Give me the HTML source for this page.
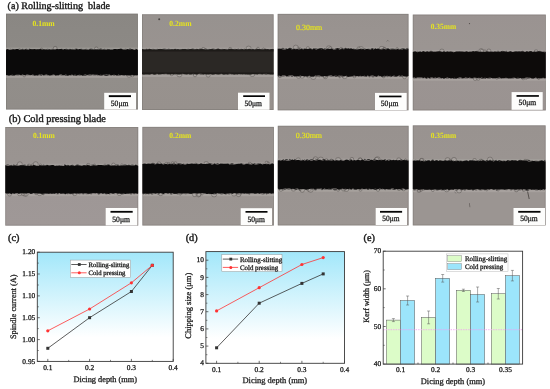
<!DOCTYPE html>
<html><head><meta charset="utf-8"><style>
html,body{margin:0;padding:0;background:#fff;width:550px;height:389px;overflow:hidden}
svg{display:block} text{text-rendering:geometricPrecision;stroke:#1a1a1a;stroke-width:0.28px;paint-order:stroke} 
</style></head><body>
<svg width="550" height="389" viewBox="0 0 550 389">
<defs></defs>
<linearGradient id="g0" x1="0" y1="0" x2="0" y2="1"><stop offset="0" stop-color="#8a8783"/><stop offset="0.35" stop-color="#8c8985"/><stop offset="0.65" stop-color="#928e8a"/><stop offset="1" stop-color="#918d89"/></linearGradient>
<rect x="6" y="13.7" width="131.9" height="95.8" fill="url(#g0)"/>
<rect x="6.4" y="14.1" width="131.1" height="95.0" fill="none" stroke="#6f6c68" stroke-width="0.8" opacity="0.45"/>
<rect x="6" y="47.6" width="131.9" height="1.8" fill="#aaa6a2" opacity="0.55"/>
<rect x="6" y="75.6" width="131.9" height="2.2" fill="#b0aca8" opacity="0.55"/>
<path d="M6.0,49.4 Q7.6,48.4 9.3,49.4 Z" fill="#0b0a0a" opacity="0.64"/>
<path d="M9.3,49.4 Q10.4,48.1 11.6,49.4 Z" fill="#0b0a0a" opacity="0.51"/>
<path d="M11.6,49.4 Q12.7,48.1 13.8,49.4 Z" fill="#0b0a0a" opacity="0.37"/>
<path d="M13.8,49.4 Q15.7,48.5 17.6,49.4 Z" fill="#0b0a0a" opacity="0.39"/>
<path d="M17.6,49.4 Q19.4,47.8 21.2,49.4 Z" fill="#0b0a0a" opacity="0.41"/>
<path d="M21.2,49.4 Q22.7,48.0 24.1,49.4 Z" fill="#0b0a0a" opacity="0.78"/>
<path d="M24.1,49.4 Q26.3,48.2 28.5,49.4 Z" fill="#0b0a0a" opacity="0.79"/>
<path d="M28.5,49.4 Q29.5,47.7 30.6,49.4 Z" fill="#0b0a0a" opacity="0.48"/>
<path d="M30.6,49.4 Q31.9,48.5 33.2,49.4 Z" fill="#0b0a0a" opacity="0.49"/>
<path d="M33.2,49.4 Q35.8,48.4 38.5,49.4 Z" fill="#0b0a0a" opacity="0.61"/>
<path d="M38.5,49.4 Q40.8,48.2 43.0,49.4 Z" fill="#0b0a0a" opacity="0.60"/>
<path d="M43.0,49.4 Q44.2,48.5 45.3,49.4 Z" fill="#0b0a0a" opacity="0.44"/>
<path d="M45.3,49.4 Q47.6,48.2 50.0,49.4 Z" fill="#0b0a0a" opacity="0.49"/>
<path d="M50.0,49.4 Q52.2,48.1 54.3,49.4 Z" fill="#0b0a0a" opacity="0.48"/>
<path d="M54.3,49.4 Q56.9,47.9 59.5,49.4 Z" fill="#0b0a0a" opacity="0.46"/>
<path d="M59.5,49.4 Q61.7,48.1 63.8,49.4 Z" fill="#0b0a0a" opacity="0.74"/>
<path d="M63.8,49.4 Q66.3,48.3 68.7,49.4 Z" fill="#0b0a0a" opacity="0.79"/>
<path d="M68.7,49.4 Q70.0,48.2 71.2,49.4 Z" fill="#0b0a0a" opacity="0.69"/>
<path d="M71.2,49.4 Q72.5,48.1 73.8,49.4 Z" fill="#0b0a0a" opacity="0.37"/>
<path d="M73.8,49.4 Q76.2,47.8 78.5,49.4 Z" fill="#0b0a0a" opacity="0.61"/>
<path d="M78.5,49.4 Q81.2,48.3 84.0,49.4 Z" fill="#0b0a0a" opacity="0.66"/>
<path d="M84.0,49.4 Q86.2,48.0 88.4,49.4 Z" fill="#0b0a0a" opacity="0.56"/>
<path d="M88.4,49.4 Q91.1,47.7 93.7,49.4 Z" fill="#0b0a0a" opacity="0.56"/>
<path d="M93.7,49.4 Q96.1,48.5 98.4,49.4 Z" fill="#0b0a0a" opacity="0.67"/>
<path d="M98.4,49.4 Q100.7,47.6 103.0,49.4 Z" fill="#0b0a0a" opacity="0.72"/>
<path d="M103.0,49.4 Q104.5,48.2 106.1,49.4 Z" fill="#0b0a0a" opacity="0.65"/>
<path d="M106.1,49.4 Q107.2,48.1 108.2,49.4 Z" fill="#0b0a0a" opacity="0.43"/>
<path d="M108.2,49.4 Q109.4,48.5 110.7,49.4 Z" fill="#0b0a0a" opacity="0.70"/>
<path d="M110.7,49.4 Q111.9,48.4 113.2,49.4 Z" fill="#0b0a0a" opacity="0.53"/>
<path d="M113.2,49.4 Q115.9,48.5 118.7,49.4 Z" fill="#0b0a0a" opacity="0.55"/>
<path d="M118.7,49.4 Q120.8,47.7 122.9,49.4 Z" fill="#0b0a0a" opacity="0.72"/>
<path d="M122.9,49.4 Q125.6,48.3 128.3,49.4 Z" fill="#0b0a0a" opacity="0.54"/>
<path d="M128.3,49.4 Q130.1,47.7 131.8,49.4 Z" fill="#0b0a0a" opacity="0.78"/>
<path d="M131.8,49.4 Q133.1,48.4 134.4,49.4 Z" fill="#0b0a0a" opacity="0.45"/>
<path d="M134.4,49.4 Q135.8,48.1 137.3,49.4 Z" fill="#0b0a0a" opacity="0.62"/>
<ellipse cx="41.6" cy="48.9" rx="1.0" ry="0.8" fill="#b4b0ac" fill-opacity="0.35" stroke="#2e2a28" stroke-width="0.4" stroke-opacity="0.75"/>
<ellipse cx="55.2" cy="48.3" rx="1.9" ry="1.9" fill="#b4b0ac" fill-opacity="0.35" stroke="#2e2a28" stroke-width="0.4" stroke-opacity="0.75"/>
<ellipse cx="96.3" cy="48.5" rx="1.8" ry="1.5" fill="#b4b0ac" fill-opacity="0.35" stroke="#2e2a28" stroke-width="0.4" stroke-opacity="0.75"/>
<path d="M6.0,75.0 Q8.4,75.9 10.7,75.0 Z" fill="#0b0a0a" opacity="0.75"/>
<path d="M10.7,75.0 Q13.3,76.7 15.8,75.0 Z" fill="#0b0a0a" opacity="0.71"/>
<path d="M15.8,75.0 Q17.6,76.2 19.4,75.0 Z" fill="#0b0a0a" opacity="0.40"/>
<path d="M19.4,75.0 Q21.7,75.9 23.9,75.0 Z" fill="#0b0a0a" opacity="0.38"/>
<path d="M23.9,75.0 Q25.3,76.0 26.8,75.0 Z" fill="#0b0a0a" opacity="0.50"/>
<path d="M26.8,75.0 Q27.9,75.8 29.0,75.0 Z" fill="#0b0a0a" opacity="0.42"/>
<path d="M29.0,75.0 Q30.2,76.2 31.4,75.0 Z" fill="#0b0a0a" opacity="0.36"/>
<path d="M31.4,75.0 Q34.1,76.4 36.9,75.0 Z" fill="#0b0a0a" opacity="0.42"/>
<path d="M36.9,75.0 Q38.4,76.1 39.9,75.0 Z" fill="#0b0a0a" opacity="0.51"/>
<path d="M39.9,75.0 Q41.1,76.6 42.4,75.0 Z" fill="#0b0a0a" opacity="0.80"/>
<path d="M42.4,75.0 Q44.3,76.3 46.2,75.0 Z" fill="#0b0a0a" opacity="0.39"/>
<path d="M46.2,75.0 Q47.4,76.1 48.7,75.0 Z" fill="#0b0a0a" opacity="0.47"/>
<path d="M48.7,75.0 Q51.3,76.0 54.0,75.0 Z" fill="#0b0a0a" opacity="0.36"/>
<path d="M54.0,75.0 Q56.9,76.3 59.8,75.0 Z" fill="#0b0a0a" opacity="0.42"/>
<path d="M59.8,75.0 Q61.9,75.8 63.9,75.0 Z" fill="#0b0a0a" opacity="0.59"/>
<path d="M63.9,75.0 Q66.9,76.7 69.9,75.0 Z" fill="#0b0a0a" opacity="0.66"/>
<path d="M69.9,75.0 Q71.4,76.2 72.9,75.0 Z" fill="#0b0a0a" opacity="0.43"/>
<path d="M72.9,75.0 Q75.4,76.3 78.0,75.0 Z" fill="#0b0a0a" opacity="0.70"/>
<path d="M78.0,75.0 Q79.7,76.0 81.3,75.0 Z" fill="#0b0a0a" opacity="0.72"/>
<path d="M81.3,75.0 Q84.3,76.7 87.2,75.0 Z" fill="#0b0a0a" opacity="0.71"/>
<path d="M87.2,75.0 Q89.9,76.5 92.5,75.0 Z" fill="#0b0a0a" opacity="0.45"/>
<path d="M92.5,75.0 Q94.6,76.2 96.6,75.0 Z" fill="#0b0a0a" opacity="0.36"/>
<path d="M96.6,75.0 Q97.6,76.1 98.7,75.0 Z" fill="#0b0a0a" opacity="0.47"/>
<path d="M98.7,75.0 Q101.1,76.8 103.5,75.0 Z" fill="#0b0a0a" opacity="0.55"/>
<path d="M103.5,75.0 Q106.3,76.8 109.2,75.0 Z" fill="#0b0a0a" opacity="0.78"/>
<path d="M109.2,75.0 Q111.0,76.0 112.7,75.0 Z" fill="#0b0a0a" opacity="0.45"/>
<path d="M112.7,75.0 Q114.1,76.0 115.5,75.0 Z" fill="#0b0a0a" opacity="0.63"/>
<path d="M115.5,75.0 Q118.3,76.6 121.1,75.0 Z" fill="#0b0a0a" opacity="0.57"/>
<path d="M121.1,75.0 Q123.4,76.6 125.7,75.0 Z" fill="#0b0a0a" opacity="0.39"/>
<path d="M125.7,75.0 Q128.0,76.7 130.3,75.0 Z" fill="#0b0a0a" opacity="0.70"/>
<path d="M130.3,75.0 Q132.8,76.3 135.3,75.0 Z" fill="#0b0a0a" opacity="0.43"/>
<path d="M135.3,75.0 Q136.6,76.1 137.9,75.0 Z" fill="#0b0a0a" opacity="0.71"/>
<ellipse cx="132.3" cy="75.7" rx="1.6" ry="1.2" fill="#b4b0ac" fill-opacity="0.35" stroke="#2e2a28" stroke-width="0.4" stroke-opacity="0.75"/>
<ellipse cx="129.1" cy="75.9" rx="2.2" ry="1.4" fill="#b4b0ac" fill-opacity="0.35" stroke="#2e2a28" stroke-width="0.4" stroke-opacity="0.75"/>
<ellipse cx="24.2" cy="75.7" rx="1.2" ry="1.2" fill="#b4b0ac" fill-opacity="0.35" stroke="#2e2a28" stroke-width="0.4" stroke-opacity="0.75"/>
<path d="M6.0,49.7 L7.5,49.0 L9.0,49.7 L10.5,49.9 L12.0,49.6 L13.5,49.3 L15.0,49.4 L16.5,49.0 L18.0,48.9 L19.5,49.9 L21.0,49.5 L22.5,49.4 L24.0,49.8 L25.5,49.3 L27.0,49.8 L28.5,49.7 L30.0,49.1 L31.5,49.2 L33.0,49.2 L34.5,49.1 L36.0,49.5 L37.5,49.2 L39.0,49.3 L40.5,49.0 L42.0,49.8 L43.5,49.3 L45.0,49.4 L46.5,49.5 L48.0,49.8 L49.5,49.3 L51.0,49.8 L52.5,49.4 L54.0,49.4 L55.5,49.4 L57.0,48.9 L58.5,49.3 L60.0,49.1 L61.5,48.9 L63.0,49.7 L64.5,49.1 L66.0,49.4 L67.5,49.6 L69.0,49.5 L70.5,49.2 L72.0,49.4 L73.5,49.5 L75.0,49.7 L76.5,49.0 L78.0,49.5 L79.5,49.1 L81.0,49.2 L82.5,49.7 L84.0,49.4 L85.5,49.5 L87.0,49.7 L88.5,49.8 L90.0,49.3 L91.5,49.5 L93.0,49.4 L94.5,49.4 L96.0,49.6 L97.5,49.4 L99.0,49.4 L100.5,49.4 L102.0,49.8 L103.5,49.6 L105.0,49.8 L106.5,49.8 L108.0,49.2 L109.5,49.5 L111.0,49.8 L112.5,49.7 L114.0,49.0 L115.5,49.0 L117.0,49.3 L118.5,49.0 L120.0,49.1 L121.5,49.0 L123.0,49.6 L124.5,49.7 L126.0,49.8 L127.5,49.1 L129.0,49.6 L130.5,49.6 L132.0,49.0 L133.5,49.8 L135.0,49.9 L136.5,49.1 L137.9,49.9 L137.9,74.9 L136.5,75.1 L135.0,75.2 L133.5,75.3 L132.0,74.8 L130.5,75.5 L129.0,75.2 L127.5,75.0 L126.0,74.9 L124.5,75.3 L123.0,75.0 L121.5,74.9 L120.0,75.3 L118.5,74.6 L117.0,75.4 L115.5,75.0 L114.0,74.7 L112.5,75.1 L111.0,75.2 L109.5,74.5 L108.0,74.8 L106.5,74.5 L105.0,74.8 L103.5,74.7 L102.0,75.0 L100.5,74.8 L99.0,75.3 L97.5,74.8 L96.0,74.8 L94.5,74.7 L93.0,74.6 L91.5,74.7 L90.0,74.6 L88.5,74.7 L87.0,75.0 L85.5,74.6 L84.0,74.8 L82.5,75.4 L81.0,75.1 L79.5,74.8 L78.0,75.0 L76.5,75.4 L75.0,74.6 L73.5,75.4 L72.0,74.6 L70.5,75.3 L69.0,75.1 L67.5,75.4 L66.0,74.6 L64.5,74.9 L63.0,75.2 L61.5,74.6 L60.0,74.6 L58.5,75.2 L57.0,75.1 L55.5,75.4 L54.0,74.6 L52.5,74.8 L51.0,75.3 L49.5,75.4 L48.0,74.9 L46.5,74.6 L45.0,74.8 L43.5,75.3 L42.0,74.5 L40.5,74.8 L39.0,74.6 L37.5,75.5 L36.0,75.3 L34.5,75.5 L33.0,74.6 L31.5,75.0 L30.0,75.1 L28.5,74.8 L27.0,74.5 L25.5,74.9 L24.0,75.1 L22.5,74.5 L21.0,75.2 L19.5,74.8 L18.0,74.7 L16.5,74.8 L15.0,75.0 L13.5,74.9 L12.0,74.7 L10.5,75.3 L9.0,75.5 L7.5,75.0 L6.0,74.9 Z" fill="#0b0a0a"/>
<text x="32.5" y="26.2" font-family="'Liberation Serif','Times New Roman',serif" class="y" font-weight="bold" font-size="7.9" fill="#e6e41e" style="stroke:none" textLength="22.2" lengthAdjust="spacingAndGlyphs">0.1mm</text>
<rect x="104.2" y="92.8" width="31.8" height="16.7" fill="#fdfdfc"/>
<rect x="108.8" y="95.2" width="22.2" height="1.9" fill="#050505"/>
<text x="110.8" y="106.0" font-family="'Liberation Serif','Times New Roman',serif" font-size="8" fill="#1a1a1a" textLength="17.6" lengthAdjust="spacingAndGlyphs">50μm</text>
<linearGradient id="g1" x1="0" y1="0" x2="0" y2="1"><stop offset="0" stop-color="#97928f"/><stop offset="0.35" stop-color="#999390"/><stop offset="0.65" stop-color="#98928e"/><stop offset="1" stop-color="#97918d"/></linearGradient>
<rect x="142" y="14.3" width="131.6" height="95.7" fill="url(#g1)"/>
<rect x="142.4" y="14.700000000000001" width="130.8" height="94.9" fill="none" stroke="#6f6c68" stroke-width="0.8" opacity="0.45"/>
<rect x="142" y="47.5" width="131.6" height="1.8" fill="#aaa6a2" opacity="0.55"/>
<rect x="142" y="74.7" width="131.6" height="2.2" fill="#b0aca8" opacity="0.55"/>
<path d="M142.0,49.3 Q143.7,48.5 145.4,49.3 Z" fill="#2b2825" opacity="0.41"/>
<path d="M145.4,49.3 Q146.5,47.9 147.7,49.3 Z" fill="#2b2825" opacity="0.47"/>
<path d="M147.7,49.3 Q149.0,48.4 150.3,49.3 Z" fill="#2b2825" opacity="0.73"/>
<path d="M150.3,49.3 Q153.1,48.0 155.8,49.3 Z" fill="#2b2825" opacity="0.48"/>
<path d="M155.8,49.3 Q157.3,48.3 158.8,49.3 Z" fill="#2b2825" opacity="0.56"/>
<path d="M158.8,49.3 Q160.1,48.1 161.4,49.3 Z" fill="#2b2825" opacity="0.47"/>
<path d="M161.4,49.3 Q164.3,47.7 167.3,49.3 Z" fill="#2b2825" opacity="0.60"/>
<path d="M167.3,49.3 Q168.7,47.7 170.2,49.3 Z" fill="#2b2825" opacity="0.49"/>
<path d="M170.2,49.3 Q171.9,48.5 173.7,49.3 Z" fill="#2b2825" opacity="0.52"/>
<path d="M173.7,49.3 Q175.6,48.1 177.6,49.3 Z" fill="#2b2825" opacity="0.44"/>
<path d="M177.6,49.3 Q179.6,48.5 181.6,49.3 Z" fill="#2b2825" opacity="0.47"/>
<path d="M181.6,49.3 Q182.8,48.2 183.9,49.3 Z" fill="#2b2825" opacity="0.37"/>
<path d="M183.9,49.3 Q185.0,48.3 186.0,49.3 Z" fill="#2b2825" opacity="0.45"/>
<path d="M186.0,49.3 Q188.2,48.1 190.4,49.3 Z" fill="#2b2825" opacity="0.69"/>
<path d="M190.4,49.3 Q192.7,47.9 195.0,49.3 Z" fill="#2b2825" opacity="0.75"/>
<path d="M195.0,49.3 Q196.8,48.2 198.6,49.3 Z" fill="#2b2825" opacity="0.79"/>
<path d="M198.6,49.3 Q199.9,47.9 201.2,49.3 Z" fill="#2b2825" opacity="0.64"/>
<path d="M201.2,49.3 Q202.2,47.8 203.3,49.3 Z" fill="#2b2825" opacity="0.75"/>
<path d="M203.3,49.3 Q205.6,47.9 207.8,49.3 Z" fill="#2b2825" opacity="0.72"/>
<path d="M207.8,49.3 Q209.1,48.1 210.4,49.3 Z" fill="#2b2825" opacity="0.58"/>
<path d="M210.4,49.3 Q213.1,47.9 215.7,49.3 Z" fill="#2b2825" opacity="0.72"/>
<path d="M215.7,49.3 Q217.9,47.8 220.1,49.3 Z" fill="#2b2825" opacity="0.66"/>
<path d="M220.1,49.3 Q222.5,48.3 224.8,49.3 Z" fill="#2b2825" opacity="0.36"/>
<path d="M224.8,49.3 Q226.1,48.2 227.4,49.3 Z" fill="#2b2825" opacity="0.40"/>
<path d="M227.4,49.3 Q230.0,48.1 232.7,49.3 Z" fill="#2b2825" opacity="0.63"/>
<path d="M232.7,49.3 Q235.0,48.0 237.2,49.3 Z" fill="#2b2825" opacity="0.57"/>
<path d="M237.2,49.3 Q238.2,47.9 239.2,49.3 Z" fill="#2b2825" opacity="0.69"/>
<path d="M239.2,49.3 Q241.2,48.1 243.3,49.3 Z" fill="#2b2825" opacity="0.65"/>
<path d="M243.3,49.3 Q244.4,47.9 245.5,49.3 Z" fill="#2b2825" opacity="0.46"/>
<path d="M245.5,49.3 Q246.7,48.3 247.8,49.3 Z" fill="#2b2825" opacity="0.68"/>
<path d="M247.8,49.3 Q249.2,47.9 250.6,49.3 Z" fill="#2b2825" opacity="0.79"/>
<path d="M250.6,49.3 Q252.6,48.2 254.6,49.3 Z" fill="#2b2825" opacity="0.57"/>
<path d="M254.6,49.3 Q257.0,47.9 259.3,49.3 Z" fill="#2b2825" opacity="0.63"/>
<path d="M259.3,49.3 Q261.6,48.4 263.9,49.3 Z" fill="#2b2825" opacity="0.42"/>
<path d="M263.9,49.3 Q265.4,47.9 266.9,49.3 Z" fill="#2b2825" opacity="0.49"/>
<path d="M266.9,49.3 Q269.1,48.5 271.2,49.3 Z" fill="#2b2825" opacity="0.38"/>
<path d="M271.2,49.3 Q272.4,48.0 273.6,49.3 Z" fill="#2b2825" opacity="0.66"/>
<ellipse cx="230.2" cy="48.6" rx="1.5" ry="1.2" fill="#b4b0ac" fill-opacity="0.35" stroke="#2e2a28" stroke-width="0.4" stroke-opacity="0.75"/>
<ellipse cx="203.3" cy="48.6" rx="1.7" ry="1.1" fill="#b4b0ac" fill-opacity="0.35" stroke="#2e2a28" stroke-width="0.4" stroke-opacity="0.75"/>
<ellipse cx="258.0" cy="48.5" rx="1.3" ry="1.3" fill="#b4b0ac" fill-opacity="0.35" stroke="#2e2a28" stroke-width="0.4" stroke-opacity="0.75"/>
<ellipse cx="263.5" cy="48.8" rx="1.0" ry="0.8" fill="#b4b0ac" fill-opacity="0.35" stroke="#2e2a28" stroke-width="0.4" stroke-opacity="0.75"/>
<ellipse cx="248.6" cy="48.1" rx="2.5" ry="2.0" fill="#b4b0ac" fill-opacity="0.35" stroke="#2e2a28" stroke-width="0.4" stroke-opacity="0.75"/>
<path d="M142.0,74.1 Q143.5,75.1 145.1,74.1 Z" fill="#2b2825" opacity="0.78"/>
<path d="M145.1,74.1 Q146.5,75.4 147.9,74.1 Z" fill="#2b2825" opacity="0.41"/>
<path d="M147.9,74.1 Q150.0,75.7 152.0,74.1 Z" fill="#2b2825" opacity="0.41"/>
<path d="M152.0,74.1 Q154.7,75.3 157.3,74.1 Z" fill="#2b2825" opacity="0.75"/>
<path d="M157.3,74.1 Q159.7,75.1 162.1,74.1 Z" fill="#2b2825" opacity="0.75"/>
<path d="M162.1,74.1 Q164.1,74.9 166.1,74.1 Z" fill="#2b2825" opacity="0.35"/>
<path d="M166.1,74.1 Q168.0,75.3 170.0,74.1 Z" fill="#2b2825" opacity="0.49"/>
<path d="M170.0,74.1 Q171.3,75.2 172.6,74.1 Z" fill="#2b2825" opacity="0.49"/>
<path d="M172.6,74.1 Q175.3,74.9 177.9,74.1 Z" fill="#2b2825" opacity="0.69"/>
<path d="M177.9,74.1 Q180.6,75.0 183.3,74.1 Z" fill="#2b2825" opacity="0.77"/>
<path d="M183.3,74.1 Q185.7,75.6 188.2,74.1 Z" fill="#2b2825" opacity="0.48"/>
<path d="M188.2,74.1 Q189.9,75.2 191.6,74.1 Z" fill="#2b2825" opacity="0.80"/>
<path d="M191.6,74.1 Q193.8,75.2 196.0,74.1 Z" fill="#2b2825" opacity="0.54"/>
<path d="M196.0,74.1 Q197.5,74.9 199.1,74.1 Z" fill="#2b2825" opacity="0.40"/>
<path d="M199.1,74.1 Q201.8,75.1 204.4,74.1 Z" fill="#2b2825" opacity="0.77"/>
<path d="M204.4,74.1 Q205.9,75.1 207.4,74.1 Z" fill="#2b2825" opacity="0.58"/>
<path d="M207.4,74.1 Q208.8,75.2 210.2,74.1 Z" fill="#2b2825" opacity="0.78"/>
<path d="M210.2,74.1 Q213.0,75.5 215.7,74.1 Z" fill="#2b2825" opacity="0.63"/>
<path d="M215.7,74.1 Q218.6,75.7 221.4,74.1 Z" fill="#2b2825" opacity="0.60"/>
<path d="M221.4,74.1 Q223.8,74.9 226.3,74.1 Z" fill="#2b2825" opacity="0.68"/>
<path d="M226.3,74.1 Q228.2,75.5 230.1,74.1 Z" fill="#2b2825" opacity="0.64"/>
<path d="M230.1,74.1 Q231.6,74.9 233.2,74.1 Z" fill="#2b2825" opacity="0.77"/>
<path d="M233.2,74.1 Q234.5,75.3 235.7,74.1 Z" fill="#2b2825" opacity="0.50"/>
<path d="M235.7,74.1 Q237.3,75.5 238.9,74.1 Z" fill="#2b2825" opacity="0.79"/>
<path d="M238.9,74.1 Q240.4,75.4 242.0,74.1 Z" fill="#2b2825" opacity="0.49"/>
<path d="M242.0,74.1 Q244.1,75.2 246.2,74.1 Z" fill="#2b2825" opacity="0.43"/>
<path d="M246.2,74.1 Q247.5,75.1 248.8,74.1 Z" fill="#2b2825" opacity="0.76"/>
<path d="M248.8,74.1 Q250.8,75.1 252.8,74.1 Z" fill="#2b2825" opacity="0.76"/>
<path d="M252.8,74.1 Q255.8,75.3 258.8,74.1 Z" fill="#2b2825" opacity="0.41"/>
<path d="M258.8,74.1 Q260.2,75.0 261.6,74.1 Z" fill="#2b2825" opacity="0.50"/>
<path d="M261.6,74.1 Q262.8,75.1 263.9,74.1 Z" fill="#2b2825" opacity="0.47"/>
<path d="M263.9,74.1 Q266.1,75.6 268.2,74.1 Z" fill="#2b2825" opacity="0.69"/>
<path d="M268.2,74.1 Q270.0,75.2 271.9,74.1 Z" fill="#2b2825" opacity="0.59"/>
<path d="M271.9,74.1 Q272.7,75.2 273.6,74.1 Z" fill="#2b2825" opacity="0.38"/>
<ellipse cx="179.4" cy="75.1" rx="2.5" ry="1.7" fill="#b4b0ac" fill-opacity="0.35" stroke="#2e2a28" stroke-width="0.4" stroke-opacity="0.75"/>
<ellipse cx="208.2" cy="75.2" rx="2.0" ry="1.9" fill="#b4b0ac" fill-opacity="0.35" stroke="#2e2a28" stroke-width="0.4" stroke-opacity="0.75"/>
<ellipse cx="171.6" cy="74.7" rx="1.4" ry="1.0" fill="#b4b0ac" fill-opacity="0.35" stroke="#2e2a28" stroke-width="0.4" stroke-opacity="0.75"/>
<ellipse cx="195.0" cy="75.1" rx="1.7" ry="1.7" fill="#b4b0ac" fill-opacity="0.35" stroke="#2e2a28" stroke-width="0.4" stroke-opacity="0.75"/>
<ellipse cx="252.3" cy="75.0" rx="2.4" ry="1.5" fill="#b4b0ac" fill-opacity="0.35" stroke="#2e2a28" stroke-width="0.4" stroke-opacity="0.75"/>
<path d="M142.0,48.8 L143.5,49.5 L145.0,49.7 L146.5,49.3 L148.0,49.4 L149.5,48.8 L151.0,49.2 L152.5,49.7 L154.0,49.6 L155.5,49.7 L157.0,49.8 L158.5,49.0 L160.0,48.9 L161.5,49.0 L163.0,49.3 L164.5,49.5 L166.0,49.7 L167.5,49.5 L169.0,49.4 L170.5,49.6 L172.0,49.3 L173.5,49.4 L175.0,48.8 L176.5,49.6 L178.0,49.0 L179.5,49.7 L181.0,49.4 L182.5,49.1 L184.0,48.9 L185.5,49.1 L187.0,49.4 L188.5,49.5 L190.0,48.9 L191.5,48.9 L193.0,49.3 L194.5,49.4 L196.0,49.2 L197.5,49.0 L199.0,49.4 L200.5,48.8 L202.0,49.1 L203.5,49.3 L205.0,49.8 L206.5,49.4 L208.0,49.7 L209.5,49.3 L211.0,49.0 L212.5,49.0 L214.0,49.8 L215.5,49.5 L217.0,49.1 L218.5,48.8 L220.0,49.3 L221.5,49.5 L223.0,49.2 L224.5,49.1 L226.0,49.5 L227.5,49.7 L229.0,49.0 L230.5,48.8 L232.0,49.1 L233.5,49.2 L235.0,49.5 L236.5,49.0 L238.0,49.6 L239.5,49.5 L241.0,49.3 L242.5,49.0 L244.0,49.8 L245.5,49.1 L247.0,49.6 L248.5,49.0 L250.0,49.0 L251.5,49.6 L253.0,49.1 L254.5,49.8 L256.0,49.3 L257.5,49.0 L259.0,49.0 L260.5,49.2 L262.0,49.5 L263.5,49.7 L265.0,48.9 L266.5,49.2 L268.0,49.0 L269.5,49.8 L271.0,48.9 L272.5,48.9 L273.6,48.9 L273.6,74.6 L272.5,74.5 L271.0,74.6 L269.5,73.9 L268.0,74.2 L266.5,73.6 L265.0,73.7 L263.5,73.8 L262.0,74.4 L260.5,73.8 L259.0,73.7 L257.5,74.4 L256.0,74.0 L254.5,73.9 L253.0,73.9 L251.5,74.2 L250.0,74.4 L248.5,74.4 L247.0,74.3 L245.5,74.4 L244.0,73.8 L242.5,74.5 L241.0,74.1 L239.5,74.0 L238.0,73.9 L236.5,74.0 L235.0,74.6 L233.5,74.6 L232.0,74.1 L230.5,73.8 L229.0,73.6 L227.5,74.5 L226.0,74.2 L224.5,74.5 L223.0,74.4 L221.5,73.6 L220.0,73.9 L218.5,73.9 L217.0,74.3 L215.5,73.9 L214.0,74.2 L212.5,74.6 L211.0,73.9 L209.5,73.9 L208.0,74.5 L206.5,74.3 L205.0,73.9 L203.5,74.5 L202.0,73.7 L200.5,73.6 L199.0,73.6 L197.5,74.4 L196.0,74.4 L194.5,74.0 L193.0,73.6 L191.5,74.5 L190.0,74.0 L188.5,73.8 L187.0,74.5 L185.5,74.0 L184.0,74.1 L182.5,73.6 L181.0,74.0 L179.5,74.4 L178.0,74.4 L176.5,74.0 L175.0,73.8 L173.5,74.6 L172.0,73.7 L170.5,74.6 L169.0,74.0 L167.5,73.9 L166.0,73.6 L164.5,73.8 L163.0,73.9 L161.5,74.0 L160.0,74.0 L158.5,74.3 L157.0,73.6 L155.5,74.3 L154.0,74.5 L152.5,73.8 L151.0,73.9 L149.5,74.5 L148.0,74.6 L146.5,74.3 L145.0,74.5 L143.5,74.5 L142.0,74.0 Z" fill="#2b2825"/>
<rect x="142" y="49.3" width="131.6" height="2.2" fill="#141211" opacity="0.6"/>
<rect x="142" y="72.5" width="131.6" height="1.6" fill="#141211" opacity="0.6"/>
<text x="169.3" y="25.5" font-family="'Liberation Serif','Times New Roman',serif" class="y" font-weight="bold" font-size="7.9" fill="#e6e41e" style="stroke:none" textLength="22.2" lengthAdjust="spacingAndGlyphs">0.2mm</text>
<rect x="238.0" y="92.7" width="31.5" height="17.1" fill="#fdfdfc"/>
<rect x="243.2" y="95.3" width="21.8" height="1.7" fill="#050505"/>
<text x="244.5" y="105.5" font-family="'Liberation Serif','Times New Roman',serif" font-size="8" fill="#1a1a1a" textLength="17.5" lengthAdjust="spacingAndGlyphs">50μm</text>
<linearGradient id="g2" x1="0" y1="0" x2="0" y2="1"><stop offset="0" stop-color="#98928f"/><stop offset="0.35" stop-color="#9a9491"/><stop offset="0.65" stop-color="#9a9491"/><stop offset="1" stop-color="#999390"/></linearGradient>
<rect x="277.7" y="13.9" width="130.8" height="96.4" fill="url(#g2)"/>
<rect x="278.09999999999997" y="14.3" width="130.0" height="95.6" fill="none" stroke="#6f6c68" stroke-width="0.8" opacity="0.45"/>
<rect x="277.7" y="47.3" width="130.8" height="1.8" fill="#aaa6a2" opacity="0.55"/>
<rect x="277.7" y="76.6" width="130.8" height="2.2" fill="#b0aca8" opacity="0.55"/>
<path d="M277.7,49.1 Q279.2,48.1 280.8,49.1 Z" fill="#0e0c0c" opacity="0.39"/>
<path d="M280.8,49.1 Q282.8,46.6 284.8,49.1 Z" fill="#0e0c0c" opacity="0.55"/>
<path d="M284.8,49.1 Q286.2,47.3 287.7,49.1 Z" fill="#0e0c0c" opacity="0.63"/>
<path d="M287.7,49.1 Q290.0,46.5 292.4,49.1 Z" fill="#0e0c0c" opacity="0.73"/>
<path d="M292.4,49.1 Q294.7,48.0 297.0,49.1 Z" fill="#0e0c0c" opacity="0.73"/>
<path d="M297.0,49.1 Q298.6,46.9 300.2,49.1 Z" fill="#0e0c0c" opacity="0.52"/>
<path d="M300.2,49.1 Q302.7,47.8 305.2,49.1 Z" fill="#0e0c0c" opacity="0.46"/>
<path d="M305.2,49.1 Q306.7,47.9 308.2,49.1 Z" fill="#0e0c0c" opacity="0.75"/>
<path d="M308.2,49.1 Q310.3,47.5 312.5,49.1 Z" fill="#0e0c0c" opacity="0.53"/>
<path d="M312.5,49.1 Q315.5,47.1 318.4,49.1 Z" fill="#0e0c0c" opacity="0.45"/>
<path d="M318.4,49.1 Q321.1,46.7 323.7,49.1 Z" fill="#0e0c0c" opacity="0.80"/>
<path d="M323.7,49.1 Q324.9,47.2 326.1,49.1 Z" fill="#0e0c0c" opacity="0.72"/>
<path d="M326.1,49.1 Q328.8,46.1 331.4,49.1 Z" fill="#0e0c0c" opacity="0.37"/>
<path d="M331.4,49.1 Q333.0,48.0 334.6,49.1 Z" fill="#0e0c0c" opacity="0.44"/>
<path d="M334.6,49.1 Q337.6,46.9 340.5,49.1 Z" fill="#0e0c0c" opacity="0.77"/>
<path d="M340.5,49.1 Q342.3,46.2 344.0,49.1 Z" fill="#0e0c0c" opacity="0.55"/>
<path d="M344.0,49.1 Q345.5,46.4 347.0,49.1 Z" fill="#0e0c0c" opacity="0.78"/>
<path d="M347.0,49.1 Q348.2,46.9 349.5,49.1 Z" fill="#0e0c0c" opacity="0.63"/>
<path d="M349.5,49.1 Q350.9,47.4 352.3,49.1 Z" fill="#0e0c0c" opacity="0.41"/>
<path d="M352.3,49.1 Q353.7,47.7 355.1,49.1 Z" fill="#0e0c0c" opacity="0.62"/>
<path d="M355.1,49.1 Q357.4,47.8 359.8,49.1 Z" fill="#0e0c0c" opacity="0.36"/>
<path d="M359.8,49.1 Q361.4,46.7 363.1,49.1 Z" fill="#0e0c0c" opacity="0.43"/>
<path d="M363.1,49.1 Q364.7,47.8 366.3,49.1 Z" fill="#0e0c0c" opacity="0.71"/>
<path d="M366.3,49.1 Q368.4,48.1 370.5,49.1 Z" fill="#0e0c0c" opacity="0.40"/>
<path d="M370.5,49.1 Q372.3,47.0 374.1,49.1 Z" fill="#0e0c0c" opacity="0.64"/>
<path d="M374.1,49.1 Q375.3,47.9 376.4,49.1 Z" fill="#0e0c0c" opacity="0.66"/>
<path d="M376.4,49.1 Q378.3,47.6 380.1,49.1 Z" fill="#0e0c0c" opacity="0.49"/>
<path d="M380.1,49.1 Q383.0,47.6 385.9,49.1 Z" fill="#0e0c0c" opacity="0.60"/>
<path d="M385.9,49.1 Q387.6,47.3 389.3,49.1 Z" fill="#0e0c0c" opacity="0.74"/>
<path d="M389.3,49.1 Q392.3,47.4 395.3,49.1 Z" fill="#0e0c0c" opacity="0.44"/>
<path d="M395.3,49.1 Q397.8,47.8 400.2,49.1 Z" fill="#0e0c0c" opacity="0.35"/>
<path d="M400.2,49.1 Q403.0,47.3 405.8,49.1 Z" fill="#0e0c0c" opacity="0.72"/>
<path d="M405.8,49.1 Q407.2,46.2 408.5,49.1 Z" fill="#0e0c0c" opacity="0.56"/>
<ellipse cx="300.3" cy="48.6" rx="1.0" ry="0.8" fill="#b4b0ac" fill-opacity="0.35" stroke="#2e2a28" stroke-width="0.4" stroke-opacity="0.75"/>
<ellipse cx="360.9" cy="48.2" rx="2.5" ry="1.6" fill="#b4b0ac" fill-opacity="0.35" stroke="#2e2a28" stroke-width="0.4" stroke-opacity="0.75"/>
<ellipse cx="358.6" cy="48.3" rx="1.6" ry="1.3" fill="#b4b0ac" fill-opacity="0.35" stroke="#2e2a28" stroke-width="0.4" stroke-opacity="0.75"/>
<ellipse cx="298.2" cy="48.4" rx="1.5" ry="1.2" fill="#b4b0ac" fill-opacity="0.35" stroke="#2e2a28" stroke-width="0.4" stroke-opacity="0.75"/>
<ellipse cx="397.1" cy="48.5" rx="1.2" ry="0.9" fill="#b4b0ac" fill-opacity="0.35" stroke="#2e2a28" stroke-width="0.4" stroke-opacity="0.75"/>
<ellipse cx="381.8" cy="48.1" rx="2.5" ry="1.7" fill="#b4b0ac" fill-opacity="0.35" stroke="#2e2a28" stroke-width="0.4" stroke-opacity="0.75"/>
<ellipse cx="295.8" cy="47.6" rx="2.5" ry="2.5" fill="#b4b0ac" fill-opacity="0.35" stroke="#2e2a28" stroke-width="0.4" stroke-opacity="0.75"/>
<ellipse cx="340.9" cy="48.5" rx="1.1" ry="1.1" fill="#b4b0ac" fill-opacity="0.35" stroke="#2e2a28" stroke-width="0.4" stroke-opacity="0.75"/>
<ellipse cx="328.9" cy="47.9" rx="2.4" ry="2.1" fill="#b4b0ac" fill-opacity="0.35" stroke="#2e2a28" stroke-width="0.4" stroke-opacity="0.75"/>
<ellipse cx="384.3" cy="48.4" rx="1.3" ry="1.1" fill="#b4b0ac" fill-opacity="0.35" stroke="#2e2a28" stroke-width="0.4" stroke-opacity="0.75"/>
<ellipse cx="307.9" cy="48.2" rx="1.6" ry="1.5" fill="#b4b0ac" fill-opacity="0.35" stroke="#2e2a28" stroke-width="0.4" stroke-opacity="0.75"/>
<ellipse cx="384.8" cy="48.6" rx="1.3" ry="0.9" fill="#b4b0ac" fill-opacity="0.35" stroke="#2e2a28" stroke-width="0.4" stroke-opacity="0.75"/>
<ellipse cx="330.4" cy="48.3" rx="1.8" ry="1.4" fill="#b4b0ac" fill-opacity="0.35" stroke="#2e2a28" stroke-width="0.4" stroke-opacity="0.75"/>
<path d="M277.7,76.0 Q278.9,77.4 280.2,76.0 Z" fill="#0e0c0c" opacity="0.68"/>
<path d="M280.2,76.0 Q283.0,76.9 285.8,76.0 Z" fill="#0e0c0c" opacity="0.60"/>
<path d="M285.8,76.0 Q288.3,76.9 290.8,76.0 Z" fill="#0e0c0c" opacity="0.73"/>
<path d="M290.8,76.0 Q292.0,78.2 293.3,76.0 Z" fill="#0e0c0c" opacity="0.60"/>
<path d="M293.3,76.0 Q295.5,77.5 297.8,76.0 Z" fill="#0e0c0c" opacity="0.54"/>
<path d="M297.8,76.0 Q300.0,77.8 302.1,76.0 Z" fill="#0e0c0c" opacity="0.65"/>
<path d="M302.1,76.0 Q304.0,77.9 305.9,76.0 Z" fill="#0e0c0c" opacity="0.36"/>
<path d="M305.9,76.0 Q308.1,78.0 310.4,76.0 Z" fill="#0e0c0c" opacity="0.46"/>
<path d="M310.4,76.0 Q312.9,78.7 315.4,76.0 Z" fill="#0e0c0c" opacity="0.56"/>
<path d="M315.4,76.0 Q316.8,77.9 318.2,76.0 Z" fill="#0e0c0c" opacity="0.40"/>
<path d="M318.2,76.0 Q319.4,77.8 320.7,76.0 Z" fill="#0e0c0c" opacity="0.39"/>
<path d="M320.7,76.0 Q322.6,78.0 324.4,76.0 Z" fill="#0e0c0c" opacity="0.37"/>
<path d="M324.4,76.0 Q326.7,77.0 329.0,76.0 Z" fill="#0e0c0c" opacity="0.68"/>
<path d="M329.0,76.0 Q331.5,78.0 334.1,76.0 Z" fill="#0e0c0c" opacity="0.37"/>
<path d="M334.1,76.0 Q336.1,77.7 338.1,76.0 Z" fill="#0e0c0c" opacity="0.78"/>
<path d="M338.1,76.0 Q339.4,78.9 340.7,76.0 Z" fill="#0e0c0c" opacity="0.80"/>
<path d="M340.7,76.0 Q343.1,78.8 345.6,76.0 Z" fill="#0e0c0c" opacity="0.44"/>
<path d="M345.6,76.0 Q348.5,78.0 351.5,76.0 Z" fill="#0e0c0c" opacity="0.78"/>
<path d="M351.5,76.0 Q354.3,77.2 357.2,76.0 Z" fill="#0e0c0c" opacity="0.70"/>
<path d="M357.2,76.0 Q360.0,77.0 362.9,76.0 Z" fill="#0e0c0c" opacity="0.51"/>
<path d="M362.9,76.0 Q365.4,77.2 367.9,76.0 Z" fill="#0e0c0c" opacity="0.75"/>
<path d="M367.9,76.0 Q369.5,78.8 371.0,76.0 Z" fill="#0e0c0c" opacity="0.41"/>
<path d="M371.0,76.0 Q373.0,79.0 375.0,76.0 Z" fill="#0e0c0c" opacity="0.44"/>
<path d="M375.0,76.0 Q376.6,78.0 378.1,76.0 Z" fill="#0e0c0c" opacity="0.49"/>
<path d="M378.1,76.0 Q379.2,77.2 380.2,76.0 Z" fill="#0e0c0c" opacity="0.42"/>
<path d="M380.2,76.0 Q383.1,78.4 386.0,76.0 Z" fill="#0e0c0c" opacity="0.75"/>
<path d="M386.0,76.0 Q387.3,78.7 388.6,76.0 Z" fill="#0e0c0c" opacity="0.40"/>
<path d="M388.6,76.0 Q390.7,78.3 392.8,76.0 Z" fill="#0e0c0c" opacity="0.51"/>
<path d="M392.8,76.0 Q395.5,78.1 398.3,76.0 Z" fill="#0e0c0c" opacity="0.61"/>
<path d="M398.3,76.0 Q401.0,77.1 403.8,76.0 Z" fill="#0e0c0c" opacity="0.80"/>
<path d="M403.8,76.0 Q406.1,77.7 408.3,76.0 Z" fill="#0e0c0c" opacity="0.71"/>
<ellipse cx="313.3" cy="77.3" rx="2.6" ry="2.1" fill="#b4b0ac" fill-opacity="0.35" stroke="#2e2a28" stroke-width="0.4" stroke-opacity="0.75"/>
<ellipse cx="325.4" cy="77.0" rx="2.2" ry="1.7" fill="#b4b0ac" fill-opacity="0.35" stroke="#2e2a28" stroke-width="0.4" stroke-opacity="0.75"/>
<ellipse cx="302.1" cy="76.8" rx="2.2" ry="1.4" fill="#b4b0ac" fill-opacity="0.35" stroke="#2e2a28" stroke-width="0.4" stroke-opacity="0.75"/>
<ellipse cx="383.7" cy="76.7" rx="1.4" ry="1.2" fill="#b4b0ac" fill-opacity="0.35" stroke="#2e2a28" stroke-width="0.4" stroke-opacity="0.75"/>
<ellipse cx="404.5" cy="77.0" rx="1.9" ry="1.7" fill="#b4b0ac" fill-opacity="0.35" stroke="#2e2a28" stroke-width="0.4" stroke-opacity="0.75"/>
<ellipse cx="319.3" cy="76.4" rx="1.0" ry="0.6" fill="#b4b0ac" fill-opacity="0.35" stroke="#2e2a28" stroke-width="0.4" stroke-opacity="0.75"/>
<ellipse cx="298.6" cy="76.9" rx="2.0" ry="1.5" fill="#b4b0ac" fill-opacity="0.35" stroke="#2e2a28" stroke-width="0.4" stroke-opacity="0.75"/>
<ellipse cx="344.7" cy="77.0" rx="2.4" ry="1.6" fill="#b4b0ac" fill-opacity="0.35" stroke="#2e2a28" stroke-width="0.4" stroke-opacity="0.75"/>
<ellipse cx="308.5" cy="76.7" rx="2.0" ry="1.2" fill="#b4b0ac" fill-opacity="0.35" stroke="#2e2a28" stroke-width="0.4" stroke-opacity="0.75"/>
<ellipse cx="280.0" cy="76.6" rx="1.6" ry="1.0" fill="#b4b0ac" fill-opacity="0.35" stroke="#2e2a28" stroke-width="0.4" stroke-opacity="0.75"/>
<ellipse cx="325.0" cy="76.7" rx="1.4" ry="1.1" fill="#b4b0ac" fill-opacity="0.35" stroke="#2e2a28" stroke-width="0.4" stroke-opacity="0.75"/>
<ellipse cx="354.4" cy="76.7" rx="1.3" ry="1.1" fill="#b4b0ac" fill-opacity="0.35" stroke="#2e2a28" stroke-width="0.4" stroke-opacity="0.75"/>
<ellipse cx="339.9" cy="76.7" rx="1.2" ry="1.2" fill="#b4b0ac" fill-opacity="0.35" stroke="#2e2a28" stroke-width="0.4" stroke-opacity="0.75"/>
<path d="M277.7,48.8 L279.2,48.7 L280.7,48.7 L282.2,49.2 L283.7,49.5 L285.2,49.4 L286.7,49.0 L288.2,48.9 L289.7,48.6 L291.2,49.2 L292.7,49.2 L294.2,49.0 L295.7,49.2 L297.2,49.0 L298.7,49.5 L300.2,49.3 L301.7,48.8 L303.2,49.5 L304.7,48.6 L306.2,49.1 L307.7,49.0 L309.2,48.8 L310.7,48.7 L312.2,49.4 L313.7,48.6 L315.2,49.2 L316.7,49.5 L318.2,48.7 L319.7,48.8 L321.2,49.2 L322.7,49.1 L324.2,49.2 L325.7,49.4 L327.2,48.8 L328.7,48.9 L330.2,48.9 L331.7,48.6 L333.2,49.5 L334.7,49.4 L336.2,49.3 L337.7,48.6 L339.2,49.4 L340.7,49.3 L342.2,49.1 L343.7,49.3 L345.2,49.1 L346.7,48.8 L348.2,48.7 L349.7,48.8 L351.2,48.6 L352.7,48.9 L354.2,49.3 L355.7,49.3 L357.2,49.4 L358.7,49.3 L360.2,48.9 L361.7,49.2 L363.2,49.0 L364.7,49.4 L366.2,49.1 L367.7,48.9 L369.2,49.2 L370.7,49.6 L372.2,48.8 L373.7,49.5 L375.2,48.6 L376.7,48.9 L378.2,48.8 L379.7,49.3 L381.2,49.5 L382.7,49.3 L384.2,48.9 L385.7,49.5 L387.2,48.9 L388.7,48.8 L390.2,49.5 L391.7,49.2 L393.2,49.3 L394.7,49.3 L396.2,49.6 L397.7,49.1 L399.2,49.4 L400.7,49.3 L402.2,49.5 L403.7,49.0 L405.2,49.3 L406.7,49.2 L408.2,48.9 L408.5,48.8 L408.5,75.9 L408.2,76.1 L406.7,76.3 L405.2,76.2 L403.7,76.3 L402.2,75.6 L400.7,76.1 L399.2,75.6 L397.7,76.0 L396.2,76.2 L394.7,75.7 L393.2,75.8 L391.7,76.4 L390.2,75.8 L388.7,76.3 L387.2,75.8 L385.7,76.0 L384.2,75.7 L382.7,76.3 L381.2,76.0 L379.7,76.0 L378.2,75.5 L376.7,76.5 L375.2,76.3 L373.7,75.7 L372.2,75.5 L370.7,75.7 L369.2,76.3 L367.7,75.6 L366.2,76.4 L364.7,75.7 L363.2,76.0 L361.7,76.2 L360.2,75.8 L358.7,76.3 L357.2,75.9 L355.7,75.9 L354.2,75.5 L352.7,76.1 L351.2,76.4 L349.7,76.0 L348.2,76.5 L346.7,75.8 L345.2,75.9 L343.7,76.2 L342.2,75.8 L340.7,75.8 L339.2,75.5 L337.7,75.9 L336.2,75.8 L334.7,75.7 L333.2,76.3 L331.7,75.6 L330.2,75.6 L328.7,75.8 L327.2,76.1 L325.7,76.3 L324.2,76.1 L322.7,76.3 L321.2,76.3 L319.7,75.5 L318.2,75.6 L316.7,75.7 L315.2,75.6 L313.7,76.4 L312.2,76.4 L310.7,76.4 L309.2,75.6 L307.7,76.4 L306.2,76.3 L304.7,76.3 L303.2,75.9 L301.7,76.1 L300.2,75.6 L298.7,76.2 L297.2,76.2 L295.7,76.1 L294.2,76.2 L292.7,75.5 L291.2,75.5 L289.7,75.6 L288.2,75.8 L286.7,76.4 L285.2,75.6 L283.7,75.5 L282.2,75.6 L280.7,76.4 L279.2,75.6 L277.7,76.1 Z" fill="#0e0c0c"/>
<text x="296.0" y="29.8" font-family="'Liberation Serif','Times New Roman',serif" class="y" font-size="7.9" fill="#e6e41e" style="stroke:#e6e41e;stroke-width:0.18px" textLength="26.3" lengthAdjust="spacingAndGlyphs">0.30mm</text>
<rect x="375.0" y="92.9" width="31.7" height="17.1" fill="#fdfdfc"/>
<rect x="379.2" y="95.6" width="22.3" height="1.7" fill="#050505"/>
<text x="380.8" y="105.6" font-family="'Liberation Serif','Times New Roman',serif" font-size="8" fill="#1a1a1a" textLength="17.6" lengthAdjust="spacingAndGlyphs">50μm</text>
<linearGradient id="g3" x1="0" y1="0" x2="0" y2="1"><stop offset="0" stop-color="#9a9391"/><stop offset="0.35" stop-color="#9b9592"/><stop offset="0.65" stop-color="#9b9492"/><stop offset="1" stop-color="#9a9391"/></linearGradient>
<rect x="412.8" y="14.6" width="133.0" height="95.8" fill="url(#g3)"/>
<rect x="413.2" y="15.0" width="132.2" height="95.0" fill="none" stroke="#6f6c68" stroke-width="0.8" opacity="0.45"/>
<rect x="412.8" y="49.9" width="133.0" height="1.8" fill="#aaa6a2" opacity="0.55"/>
<rect x="412.8" y="78.5" width="133.0" height="2.2" fill="#b0aca8" opacity="0.55"/>
<path d="M412.8,51.7 Q414.6,50.4 416.4,51.7 Z" fill="#0d0b0a" opacity="0.75"/>
<path d="M416.4,51.7 Q417.6,49.8 418.7,51.7 Z" fill="#0d0b0a" opacity="0.36"/>
<path d="M418.7,51.7 Q420.2,50.6 421.6,51.7 Z" fill="#0d0b0a" opacity="0.76"/>
<path d="M421.6,51.7 Q423.6,50.4 425.6,51.7 Z" fill="#0d0b0a" opacity="0.75"/>
<path d="M425.6,51.7 Q427.0,50.3 428.5,51.7 Z" fill="#0d0b0a" opacity="0.59"/>
<path d="M428.5,51.7 Q431.0,50.0 433.5,51.7 Z" fill="#0d0b0a" opacity="0.64"/>
<path d="M433.5,51.7 Q435.2,50.5 436.9,51.7 Z" fill="#0d0b0a" opacity="0.42"/>
<path d="M436.9,51.7 Q439.6,50.1 442.3,51.7 Z" fill="#0d0b0a" opacity="0.68"/>
<path d="M442.3,51.7 Q443.6,50.4 445.0,51.7 Z" fill="#0d0b0a" opacity="0.70"/>
<path d="M445.0,51.7 Q447.1,50.7 449.3,51.7 Z" fill="#0d0b0a" opacity="0.56"/>
<path d="M449.3,51.7 Q452.1,50.6 454.8,51.7 Z" fill="#0d0b0a" opacity="0.44"/>
<path d="M454.8,51.7 Q456.4,50.1 458.0,51.7 Z" fill="#0d0b0a" opacity="0.73"/>
<path d="M458.0,51.7 Q459.3,50.7 460.7,51.7 Z" fill="#0d0b0a" opacity="0.46"/>
<path d="M460.7,51.7 Q462.3,50.3 464.0,51.7 Z" fill="#0d0b0a" opacity="0.42"/>
<path d="M464.0,51.7 Q465.6,50.7 467.3,51.7 Z" fill="#0d0b0a" opacity="0.79"/>
<path d="M467.3,51.7 Q469.7,50.8 472.2,51.7 Z" fill="#0d0b0a" opacity="0.78"/>
<path d="M472.2,51.7 Q473.4,50.4 474.6,51.7 Z" fill="#0d0b0a" opacity="0.79"/>
<path d="M474.6,51.7 Q477.2,50.0 479.8,51.7 Z" fill="#0d0b0a" opacity="0.55"/>
<path d="M479.8,51.7 Q481.2,50.1 482.6,51.7 Z" fill="#0d0b0a" opacity="0.40"/>
<path d="M482.6,51.7 Q484.0,50.4 485.4,51.7 Z" fill="#0d0b0a" opacity="0.37"/>
<path d="M485.4,51.7 Q487.2,50.0 489.0,51.7 Z" fill="#0d0b0a" opacity="0.66"/>
<path d="M489.0,51.7 Q491.0,50.1 493.0,51.7 Z" fill="#0d0b0a" opacity="0.56"/>
<path d="M493.0,51.7 Q494.3,50.2 495.6,51.7 Z" fill="#0d0b0a" opacity="0.53"/>
<path d="M495.6,51.7 Q498.0,49.8 500.5,51.7 Z" fill="#0d0b0a" opacity="0.54"/>
<path d="M500.5,51.7 Q502.7,50.0 504.8,51.7 Z" fill="#0d0b0a" opacity="0.54"/>
<path d="M504.8,51.7 Q506.3,50.0 507.7,51.7 Z" fill="#0d0b0a" opacity="0.75"/>
<path d="M507.7,51.7 Q510.3,50.1 512.8,51.7 Z" fill="#0d0b0a" opacity="0.73"/>
<path d="M512.8,51.7 Q515.2,50.1 517.5,51.7 Z" fill="#0d0b0a" opacity="0.55"/>
<path d="M517.5,51.7 Q519.2,50.1 520.8,51.7 Z" fill="#0d0b0a" opacity="0.39"/>
<path d="M520.8,51.7 Q522.6,50.0 524.5,51.7 Z" fill="#0d0b0a" opacity="0.67"/>
<path d="M524.5,51.7 Q526.7,50.6 529.0,51.7 Z" fill="#0d0b0a" opacity="0.54"/>
<path d="M529.0,51.7 Q530.9,50.2 532.8,51.7 Z" fill="#0d0b0a" opacity="0.53"/>
<path d="M532.8,51.7 Q535.2,49.8 537.5,51.7 Z" fill="#0d0b0a" opacity="0.43"/>
<path d="M537.5,51.7 Q539.8,50.0 542.1,51.7 Z" fill="#0d0b0a" opacity="0.52"/>
<path d="M542.1,51.7 Q544.0,49.7 545.8,51.7 Z" fill="#0d0b0a" opacity="0.37"/>
<ellipse cx="484.9" cy="51.0" rx="1.3" ry="1.1" fill="#b4b0ac" fill-opacity="0.35" stroke="#2e2a28" stroke-width="0.4" stroke-opacity="0.75"/>
<ellipse cx="536.1" cy="51.0" rx="1.8" ry="1.2" fill="#b4b0ac" fill-opacity="0.35" stroke="#2e2a28" stroke-width="0.4" stroke-opacity="0.75"/>
<ellipse cx="488.9" cy="50.7" rx="1.9" ry="1.7" fill="#b4b0ac" fill-opacity="0.35" stroke="#2e2a28" stroke-width="0.4" stroke-opacity="0.75"/>
<ellipse cx="480.9" cy="50.6" rx="2.0" ry="1.9" fill="#b4b0ac" fill-opacity="0.35" stroke="#2e2a28" stroke-width="0.4" stroke-opacity="0.75"/>
<ellipse cx="482.1" cy="50.7" rx="1.7" ry="1.6" fill="#b4b0ac" fill-opacity="0.35" stroke="#2e2a28" stroke-width="0.4" stroke-opacity="0.75"/>
<ellipse cx="441.9" cy="50.7" rx="2.1" ry="1.6" fill="#b4b0ac" fill-opacity="0.35" stroke="#2e2a28" stroke-width="0.4" stroke-opacity="0.75"/>
<path d="M412.8,77.9 Q415.3,78.8 417.9,77.9 Z" fill="#0d0b0a" opacity="0.79"/>
<path d="M417.9,77.9 Q419.6,78.8 421.3,77.9 Z" fill="#0d0b0a" opacity="0.47"/>
<path d="M421.3,77.9 Q423.1,78.7 424.9,77.9 Z" fill="#0d0b0a" opacity="0.54"/>
<path d="M424.9,77.9 Q426.7,79.5 428.6,77.9 Z" fill="#0d0b0a" opacity="0.51"/>
<path d="M428.6,77.9 Q430.1,79.0 431.6,77.9 Z" fill="#0d0b0a" opacity="0.68"/>
<path d="M431.6,77.9 Q434.5,79.3 437.4,77.9 Z" fill="#0d0b0a" opacity="0.45"/>
<path d="M437.4,77.9 Q440.0,79.2 442.6,77.9 Z" fill="#0d0b0a" opacity="0.45"/>
<path d="M442.6,77.9 Q443.8,79.6 445.1,77.9 Z" fill="#0d0b0a" opacity="0.71"/>
<path d="M445.1,77.9 Q447.4,79.3 449.6,77.9 Z" fill="#0d0b0a" opacity="0.60"/>
<path d="M449.6,77.9 Q451.1,79.9 452.5,77.9 Z" fill="#0d0b0a" opacity="0.51"/>
<path d="M452.5,77.9 Q454.8,79.7 457.1,77.9 Z" fill="#0d0b0a" opacity="0.72"/>
<path d="M457.1,77.9 Q459.0,79.1 461.0,77.9 Z" fill="#0d0b0a" opacity="0.60"/>
<path d="M461.0,77.9 Q462.2,79.7 463.5,77.9 Z" fill="#0d0b0a" opacity="0.51"/>
<path d="M463.5,77.9 Q466.2,79.0 468.9,77.9 Z" fill="#0d0b0a" opacity="0.52"/>
<path d="M468.9,77.9 Q470.4,79.2 471.9,77.9 Z" fill="#0d0b0a" opacity="0.43"/>
<path d="M471.9,77.9 Q472.9,79.6 473.9,77.9 Z" fill="#0d0b0a" opacity="0.48"/>
<path d="M473.9,77.9 Q475.4,79.1 476.9,77.9 Z" fill="#0d0b0a" opacity="0.57"/>
<path d="M476.9,77.9 Q478.7,79.5 480.6,77.9 Z" fill="#0d0b0a" opacity="0.65"/>
<path d="M480.6,77.9 Q482.3,79.8 484.0,77.9 Z" fill="#0d0b0a" opacity="0.73"/>
<path d="M484.0,77.9 Q485.2,79.7 486.3,77.9 Z" fill="#0d0b0a" opacity="0.76"/>
<path d="M486.3,77.9 Q488.8,78.9 491.4,77.9 Z" fill="#0d0b0a" opacity="0.72"/>
<path d="M491.4,77.9 Q493.7,78.7 495.9,77.9 Z" fill="#0d0b0a" opacity="0.36"/>
<path d="M495.9,77.9 Q498.8,79.5 501.7,77.9 Z" fill="#0d0b0a" opacity="0.46"/>
<path d="M501.7,77.9 Q502.9,78.9 504.1,77.9 Z" fill="#0d0b0a" opacity="0.46"/>
<path d="M504.1,77.9 Q506.7,79.1 509.3,77.9 Z" fill="#0d0b0a" opacity="0.42"/>
<path d="M509.3,77.9 Q512.1,79.7 514.9,77.9 Z" fill="#0d0b0a" opacity="0.43"/>
<path d="M514.9,77.9 Q517.7,79.4 520.4,77.9 Z" fill="#0d0b0a" opacity="0.70"/>
<path d="M520.4,77.9 Q522.8,79.8 525.1,77.9 Z" fill="#0d0b0a" opacity="0.70"/>
<path d="M525.1,77.9 Q527.8,78.9 530.5,77.9 Z" fill="#0d0b0a" opacity="0.66"/>
<path d="M530.5,77.9 Q532.5,79.6 534.6,77.9 Z" fill="#0d0b0a" opacity="0.55"/>
<path d="M534.6,77.9 Q537.4,79.4 540.1,77.9 Z" fill="#0d0b0a" opacity="0.47"/>
<path d="M540.1,77.9 Q541.6,78.9 543.1,77.9 Z" fill="#0d0b0a" opacity="0.57"/>
<path d="M543.1,77.9 Q544.2,79.3 545.3,77.9 Z" fill="#0d0b0a" opacity="0.41"/>
<ellipse cx="478.2" cy="78.8" rx="1.8" ry="1.5" fill="#b4b0ac" fill-opacity="0.35" stroke="#2e2a28" stroke-width="0.4" stroke-opacity="0.75"/>
<ellipse cx="526.1" cy="78.5" rx="1.0" ry="0.9" fill="#b4b0ac" fill-opacity="0.35" stroke="#2e2a28" stroke-width="0.4" stroke-opacity="0.75"/>
<ellipse cx="475.2" cy="78.9" rx="1.9" ry="1.6" fill="#b4b0ac" fill-opacity="0.35" stroke="#2e2a28" stroke-width="0.4" stroke-opacity="0.75"/>
<ellipse cx="523.2" cy="78.6" rx="1.6" ry="1.2" fill="#b4b0ac" fill-opacity="0.35" stroke="#2e2a28" stroke-width="0.4" stroke-opacity="0.75"/>
<ellipse cx="538.7" cy="78.5" rx="1.1" ry="1.0" fill="#b4b0ac" fill-opacity="0.35" stroke="#2e2a28" stroke-width="0.4" stroke-opacity="0.75"/>
<ellipse cx="496.9" cy="78.4" rx="1.0" ry="0.9" fill="#b4b0ac" fill-opacity="0.35" stroke="#2e2a28" stroke-width="0.4" stroke-opacity="0.75"/>
<path d="M412.8,51.9 L414.3,52.1 L415.8,51.5 L417.3,52.2 L418.8,51.7 L420.3,51.7 L421.8,52.1 L423.3,51.2 L424.8,51.9 L426.3,51.8 L427.8,51.5 L429.3,52.1 L430.8,51.6 L432.3,51.7 L433.8,51.7 L435.3,52.0 L436.8,51.4 L438.3,51.6 L439.8,51.6 L441.3,51.8 L442.8,52.0 L444.3,51.5 L445.8,52.0 L447.3,51.6 L448.8,51.7 L450.3,51.5 L451.8,51.7 L453.3,52.2 L454.8,51.9 L456.3,52.0 L457.8,51.5 L459.3,51.5 L460.8,51.5 L462.3,51.8 L463.8,51.8 L465.3,52.0 L466.8,51.2 L468.3,51.9 L469.8,52.1 L471.3,51.7 L472.8,51.2 L474.3,51.5 L475.8,51.2 L477.3,51.4 L478.8,52.1 L480.3,51.8 L481.8,51.9 L483.3,52.0 L484.8,52.1 L486.3,51.8 L487.8,51.8 L489.3,51.8 L490.8,51.9 L492.3,51.8 L493.8,51.9 L495.3,51.4 L496.8,51.9 L498.3,51.7 L499.8,52.0 L501.3,51.3 L502.8,51.4 L504.3,51.2 L505.8,52.0 L507.3,52.1 L508.8,51.9 L510.3,51.6 L511.8,52.0 L513.3,52.0 L514.8,51.8 L516.3,51.5 L517.8,51.5 L519.3,51.6 L520.8,51.5 L522.3,51.6 L523.8,51.8 L525.3,52.1 L526.8,51.3 L528.3,51.8 L529.8,51.2 L531.3,51.3 L532.8,52.0 L534.3,51.8 L535.8,52.1 L537.3,51.6 L538.8,51.2 L540.3,51.6 L541.8,51.8 L543.3,52.1 L544.8,52.2 L545.8,51.7 L545.8,78.2 L544.8,78.3 L543.3,77.7 L541.8,78.0 L540.3,78.3 L538.8,78.2 L537.3,78.2 L535.8,77.4 L534.3,78.3 L532.8,78.2 L531.3,78.0 L529.8,77.8 L528.3,77.7 L526.8,77.4 L525.3,77.7 L523.8,78.2 L522.3,78.3 L520.8,78.0 L519.3,78.1 L517.8,77.8 L516.3,78.3 L514.8,77.8 L513.3,77.7 L511.8,78.0 L510.3,78.2 L508.8,78.4 L507.3,78.0 L505.8,77.7 L504.3,78.2 L502.8,78.1 L501.3,78.4 L499.8,77.5 L498.3,77.7 L496.8,78.0 L495.3,78.2 L493.8,78.3 L492.3,78.2 L490.8,77.8 L489.3,77.8 L487.8,78.0 L486.3,78.0 L484.8,77.8 L483.3,78.2 L481.8,77.5 L480.3,78.1 L478.8,77.8 L477.3,78.0 L475.8,77.8 L474.3,77.5 L472.8,77.9 L471.3,78.3 L469.8,77.6 L468.3,78.1 L466.8,77.7 L465.3,77.5 L463.8,78.2 L462.3,78.1 L460.8,77.4 L459.3,77.4 L457.8,78.1 L456.3,78.4 L454.8,77.7 L453.3,78.3 L451.8,77.9 L450.3,78.1 L448.8,78.0 L447.3,77.5 L445.8,78.1 L444.3,78.3 L442.8,78.1 L441.3,78.2 L439.8,77.5 L438.3,77.6 L436.8,78.1 L435.3,77.6 L433.8,78.1 L432.3,77.4 L430.8,77.5 L429.3,78.3 L427.8,77.5 L426.3,78.4 L424.8,77.5 L423.3,78.1 L421.8,77.4 L420.3,77.4 L418.8,77.6 L417.3,77.6 L415.8,78.0 L414.3,77.5 L412.8,77.8 Z" fill="#0d0b0a"/>
<text x="430.7" y="28.7" font-family="'Liberation Serif','Times New Roman',serif" class="y" font-weight="bold" font-size="7.9" fill="#e6e41e" style="stroke:none" textLength="25.4" lengthAdjust="spacingAndGlyphs">0.35mm</text>
<rect x="511.6" y="92.1" width="31.1" height="17.7" fill="#fdfdfc"/>
<rect x="516.5" y="95.1" width="22.4" height="1.7" fill="#050505"/>
<text x="518.6" y="104.8" font-family="'Liberation Serif','Times New Roman',serif" font-size="8" fill="#1a1a1a" textLength="17.6" lengthAdjust="spacingAndGlyphs">50μm</text>
<linearGradient id="g4" x1="0" y1="0" x2="0" y2="1"><stop offset="0" stop-color="#999390"/><stop offset="0.35" stop-color="#9a9491"/><stop offset="0.65" stop-color="#9e9796"/><stop offset="1" stop-color="#9f9897"/></linearGradient>
<rect x="5.3" y="127.0" width="132.9" height="98.6" fill="url(#g4)"/>
<rect x="5.7" y="127.4" width="132.1" height="97.8" fill="none" stroke="#6f6c68" stroke-width="0.8" opacity="0.45"/>
<rect x="5.3" y="163.7" width="132.9" height="1.8" fill="#aaa6a2" opacity="0.55"/>
<rect x="5.3" y="194.0" width="132.9" height="2.2" fill="#b0aca8" opacity="0.55"/>
<path d="M5.3,165.5 Q7.7,163.2 10.0,165.5 Z" fill="#0b0a0a" opacity="0.51"/>
<path d="M10.0,165.5 Q11.2,163.8 12.4,165.5 Z" fill="#0b0a0a" opacity="0.71"/>
<path d="M12.4,165.5 Q13.8,163.5 15.2,165.5 Z" fill="#0b0a0a" opacity="0.77"/>
<path d="M15.2,165.5 Q16.6,163.7 18.1,165.5 Z" fill="#0b0a0a" opacity="0.65"/>
<path d="M18.1,165.5 Q20.0,164.4 22.0,165.5 Z" fill="#0b0a0a" opacity="0.46"/>
<path d="M22.0,165.5 Q24.5,163.4 27.0,165.5 Z" fill="#0b0a0a" opacity="0.56"/>
<path d="M27.0,165.5 Q28.2,163.4 29.3,165.5 Z" fill="#0b0a0a" opacity="0.70"/>
<path d="M29.3,165.5 Q30.8,163.8 32.3,165.5 Z" fill="#0b0a0a" opacity="0.75"/>
<path d="M32.3,165.5 Q35.0,163.9 37.8,165.5 Z" fill="#0b0a0a" opacity="0.56"/>
<path d="M37.8,165.5 Q40.0,164.4 42.2,165.5 Z" fill="#0b0a0a" opacity="0.44"/>
<path d="M42.2,165.5 Q43.5,163.6 44.9,165.5 Z" fill="#0b0a0a" opacity="0.51"/>
<path d="M44.9,165.5 Q47.0,164.1 49.1,165.5 Z" fill="#0b0a0a" opacity="0.58"/>
<path d="M49.1,165.5 Q50.4,164.6 51.7,165.5 Z" fill="#0b0a0a" opacity="0.80"/>
<path d="M51.7,165.5 Q53.5,164.5 55.2,165.5 Z" fill="#0b0a0a" opacity="0.63"/>
<path d="M55.2,165.5 Q57.8,164.5 60.4,165.5 Z" fill="#0b0a0a" opacity="0.62"/>
<path d="M60.4,165.5 Q62.1,163.9 63.8,165.5 Z" fill="#0b0a0a" opacity="0.36"/>
<path d="M63.8,165.5 Q64.8,163.1 65.9,165.5 Z" fill="#0b0a0a" opacity="0.74"/>
<path d="M65.9,165.5 Q67.9,163.8 69.8,165.5 Z" fill="#0b0a0a" opacity="0.47"/>
<path d="M69.8,165.5 Q72.4,164.0 75.0,165.5 Z" fill="#0b0a0a" opacity="0.78"/>
<path d="M75.0,165.5 Q77.5,163.4 80.0,165.5 Z" fill="#0b0a0a" opacity="0.78"/>
<path d="M80.0,165.5 Q81.5,164.6 83.0,165.5 Z" fill="#0b0a0a" opacity="0.44"/>
<path d="M83.0,165.5 Q84.4,164.6 85.8,165.5 Z" fill="#0b0a0a" opacity="0.37"/>
<path d="M85.8,165.5 Q87.9,163.3 90.0,165.5 Z" fill="#0b0a0a" opacity="0.56"/>
<path d="M90.0,165.5 Q92.9,163.2 95.8,165.5 Z" fill="#0b0a0a" opacity="0.38"/>
<path d="M95.8,165.5 Q98.0,164.1 100.2,165.5 Z" fill="#0b0a0a" opacity="0.40"/>
<path d="M100.2,165.5 Q103.1,164.3 106.0,165.5 Z" fill="#0b0a0a" opacity="0.60"/>
<path d="M106.0,165.5 Q108.3,163.2 110.6,165.5 Z" fill="#0b0a0a" opacity="0.65"/>
<path d="M110.6,165.5 Q112.4,164.0 114.2,165.5 Z" fill="#0b0a0a" opacity="0.42"/>
<path d="M114.2,165.5 Q117.1,163.1 120.0,165.5 Z" fill="#0b0a0a" opacity="0.45"/>
<path d="M120.0,165.5 Q121.1,164.3 122.2,165.5 Z" fill="#0b0a0a" opacity="0.51"/>
<path d="M122.2,165.5 Q125.0,163.3 127.8,165.5 Z" fill="#0b0a0a" opacity="0.73"/>
<path d="M127.8,165.5 Q128.9,163.4 130.0,165.5 Z" fill="#0b0a0a" opacity="0.67"/>
<path d="M130.0,165.5 Q132.3,163.1 134.6,165.5 Z" fill="#0b0a0a" opacity="0.38"/>
<path d="M134.6,165.5 Q135.8,163.5 137.1,165.5 Z" fill="#0b0a0a" opacity="0.77"/>
<path d="M137.1,165.5 Q137.7,164.2 138.2,165.5 Z" fill="#0b0a0a" opacity="0.62"/>
<ellipse cx="105.0" cy="165.0" rx="1.2" ry="0.9" fill="#b4b0ac" fill-opacity="0.35" stroke="#2e2a28" stroke-width="0.4" stroke-opacity="0.75"/>
<ellipse cx="40.4" cy="164.9" rx="1.2" ry="0.9" fill="#b4b0ac" fill-opacity="0.35" stroke="#2e2a28" stroke-width="0.4" stroke-opacity="0.75"/>
<ellipse cx="29.0" cy="165.0" rx="1.4" ry="0.9" fill="#b4b0ac" fill-opacity="0.35" stroke="#2e2a28" stroke-width="0.4" stroke-opacity="0.75"/>
<ellipse cx="94.6" cy="165.0" rx="1.0" ry="0.9" fill="#b4b0ac" fill-opacity="0.35" stroke="#2e2a28" stroke-width="0.4" stroke-opacity="0.75"/>
<ellipse cx="32.4" cy="164.9" rx="1.1" ry="1.0" fill="#b4b0ac" fill-opacity="0.35" stroke="#2e2a28" stroke-width="0.4" stroke-opacity="0.75"/>
<ellipse cx="35.7" cy="164.1" rx="2.5" ry="2.4" fill="#b4b0ac" fill-opacity="0.35" stroke="#2e2a28" stroke-width="0.4" stroke-opacity="0.75"/>
<ellipse cx="121.9" cy="164.9" rx="1.2" ry="1.0" fill="#b4b0ac" fill-opacity="0.35" stroke="#2e2a28" stroke-width="0.4" stroke-opacity="0.75"/>
<ellipse cx="19.8" cy="164.1" rx="2.5" ry="2.3" fill="#b4b0ac" fill-opacity="0.35" stroke="#2e2a28" stroke-width="0.4" stroke-opacity="0.75"/>
<ellipse cx="88.3" cy="164.7" rx="1.7" ry="1.3" fill="#b4b0ac" fill-opacity="0.35" stroke="#2e2a28" stroke-width="0.4" stroke-opacity="0.75"/>
<ellipse cx="113.4" cy="164.6" rx="1.8" ry="1.5" fill="#b4b0ac" fill-opacity="0.35" stroke="#2e2a28" stroke-width="0.4" stroke-opacity="0.75"/>
<path d="M5.3,193.4 Q6.6,194.6 7.9,193.4 Z" fill="#0b0a0a" opacity="0.38"/>
<path d="M7.9,193.4 Q10.3,195.1 12.7,193.4 Z" fill="#0b0a0a" opacity="0.42"/>
<path d="M12.7,193.4 Q15.5,194.6 18.2,193.4 Z" fill="#0b0a0a" opacity="0.54"/>
<path d="M18.2,193.4 Q19.5,194.6 20.8,193.4 Z" fill="#0b0a0a" opacity="0.73"/>
<path d="M20.8,193.4 Q22.5,194.5 24.2,193.4 Z" fill="#0b0a0a" opacity="0.57"/>
<path d="M24.2,193.4 Q25.8,195.6 27.4,193.4 Z" fill="#0b0a0a" opacity="0.40"/>
<path d="M27.4,193.4 Q30.4,194.3 33.4,193.4 Z" fill="#0b0a0a" opacity="0.75"/>
<path d="M33.4,193.4 Q35.7,194.5 38.0,193.4 Z" fill="#0b0a0a" opacity="0.56"/>
<path d="M38.0,193.4 Q39.6,194.6 41.2,193.4 Z" fill="#0b0a0a" opacity="0.44"/>
<path d="M41.2,193.4 Q42.9,195.8 44.6,193.4 Z" fill="#0b0a0a" opacity="0.80"/>
<path d="M44.6,193.4 Q47.5,194.4 50.3,193.4 Z" fill="#0b0a0a" opacity="0.48"/>
<path d="M50.3,193.4 Q53.1,194.3 55.9,193.4 Z" fill="#0b0a0a" opacity="0.68"/>
<path d="M55.9,193.4 Q57.5,195.8 59.1,193.4 Z" fill="#0b0a0a" opacity="0.36"/>
<path d="M59.1,193.4 Q61.7,194.7 64.3,193.4 Z" fill="#0b0a0a" opacity="0.41"/>
<path d="M64.3,193.4 Q65.3,195.5 66.3,193.4 Z" fill="#0b0a0a" opacity="0.59"/>
<path d="M66.3,193.4 Q67.7,194.9 69.1,193.4 Z" fill="#0b0a0a" opacity="0.76"/>
<path d="M69.1,193.4 Q70.5,195.1 71.9,193.4 Z" fill="#0b0a0a" opacity="0.41"/>
<path d="M71.9,193.4 Q73.3,195.4 74.7,193.4 Z" fill="#0b0a0a" opacity="0.67"/>
<path d="M74.7,193.4 Q76.1,194.3 77.5,193.4 Z" fill="#0b0a0a" opacity="0.39"/>
<path d="M77.5,193.4 Q79.7,195.0 81.9,193.4 Z" fill="#0b0a0a" opacity="0.47"/>
<path d="M81.9,193.4 Q83.3,195.2 84.7,193.4 Z" fill="#0b0a0a" opacity="0.67"/>
<path d="M84.7,193.4 Q87.3,195.1 90.0,193.4 Z" fill="#0b0a0a" opacity="0.44"/>
<path d="M90.0,193.4 Q91.1,195.4 92.2,193.4 Z" fill="#0b0a0a" opacity="0.53"/>
<path d="M92.2,193.4 Q94.7,194.3 97.1,193.4 Z" fill="#0b0a0a" opacity="0.71"/>
<path d="M97.1,193.4 Q98.8,195.5 100.4,193.4 Z" fill="#0b0a0a" opacity="0.74"/>
<path d="M100.4,193.4 Q102.4,194.2 104.4,193.4 Z" fill="#0b0a0a" opacity="0.76"/>
<path d="M104.4,193.4 Q106.4,195.6 108.3,193.4 Z" fill="#0b0a0a" opacity="0.47"/>
<path d="M108.3,193.4 Q109.7,195.5 111.1,193.4 Z" fill="#0b0a0a" opacity="0.52"/>
<path d="M111.1,193.4 Q112.4,194.8 113.7,193.4 Z" fill="#0b0a0a" opacity="0.62"/>
<path d="M113.7,193.4 Q114.7,195.0 115.7,193.4 Z" fill="#0b0a0a" opacity="0.55"/>
<path d="M115.7,193.4 Q117.8,194.4 119.8,193.4 Z" fill="#0b0a0a" opacity="0.67"/>
<path d="M119.8,193.4 Q122.4,195.6 125.1,193.4 Z" fill="#0b0a0a" opacity="0.49"/>
<path d="M125.1,193.4 Q127.5,194.8 129.9,193.4 Z" fill="#0b0a0a" opacity="0.69"/>
<path d="M129.9,193.4 Q131.0,195.6 132.2,193.4 Z" fill="#0b0a0a" opacity="0.78"/>
<path d="M132.2,193.4 Q134.1,195.0 136.1,193.4 Z" fill="#0b0a0a" opacity="0.59"/>
<path d="M136.1,193.4 Q137.2,194.2 138.2,193.4 Z" fill="#0b0a0a" opacity="0.79"/>
<ellipse cx="36.1" cy="193.9" rx="1.3" ry="0.8" fill="#b4b0ac" fill-opacity="0.35" stroke="#2e2a28" stroke-width="0.4" stroke-opacity="0.75"/>
<ellipse cx="39.6" cy="194.2" rx="2.3" ry="1.4" fill="#b4b0ac" fill-opacity="0.35" stroke="#2e2a28" stroke-width="0.4" stroke-opacity="0.75"/>
<ellipse cx="19.7" cy="194.3" rx="2.1" ry="1.4" fill="#b4b0ac" fill-opacity="0.35" stroke="#2e2a28" stroke-width="0.4" stroke-opacity="0.75"/>
<ellipse cx="9.6" cy="194.4" rx="2.0" ry="1.6" fill="#b4b0ac" fill-opacity="0.35" stroke="#2e2a28" stroke-width="0.4" stroke-opacity="0.75"/>
<ellipse cx="74.7" cy="194.2" rx="2.1" ry="1.4" fill="#b4b0ac" fill-opacity="0.35" stroke="#2e2a28" stroke-width="0.4" stroke-opacity="0.75"/>
<ellipse cx="119.4" cy="194.2" rx="2.1" ry="1.3" fill="#b4b0ac" fill-opacity="0.35" stroke="#2e2a28" stroke-width="0.4" stroke-opacity="0.75"/>
<ellipse cx="23.2" cy="194.3" rx="1.8" ry="1.4" fill="#b4b0ac" fill-opacity="0.35" stroke="#2e2a28" stroke-width="0.4" stroke-opacity="0.75"/>
<ellipse cx="43.3" cy="193.9" rx="1.2" ry="0.9" fill="#b4b0ac" fill-opacity="0.35" stroke="#2e2a28" stroke-width="0.4" stroke-opacity="0.75"/>
<ellipse cx="25.0" cy="194.5" rx="1.9" ry="1.8" fill="#b4b0ac" fill-opacity="0.35" stroke="#2e2a28" stroke-width="0.4" stroke-opacity="0.75"/>
<ellipse cx="26.3" cy="194.4" rx="1.9" ry="1.7" fill="#b4b0ac" fill-opacity="0.35" stroke="#2e2a28" stroke-width="0.4" stroke-opacity="0.75"/>
<path d="M5.3,165.2 L6.8,165.8 L8.3,165.9 L9.8,165.4 L11.3,165.4 L12.8,165.8 L14.3,165.5 L15.8,165.4 L17.3,165.9 L18.8,165.8 L20.3,165.3 L21.8,165.2 L23.3,165.3 L24.8,165.4 L26.3,166.0 L27.8,165.8 L29.3,165.9 L30.8,165.8 L32.3,165.8 L33.8,165.1 L35.3,165.5 L36.8,166.0 L38.3,165.9 L39.8,165.2 L41.3,165.4 L42.8,165.6 L44.3,165.4 L45.8,165.5 L47.3,165.1 L48.8,165.4 L50.3,165.5 L51.8,165.0 L53.3,165.1 L54.8,166.0 L56.3,165.8 L57.8,165.9 L59.3,165.6 L60.8,165.8 L62.3,165.9 L63.8,165.9 L65.3,165.0 L66.8,165.6 L68.3,165.3 L69.8,165.7 L71.3,165.3 L72.8,165.5 L74.3,165.9 L75.8,165.6 L77.3,165.3 L78.8,165.5 L80.3,165.4 L81.8,166.0 L83.3,165.3 L84.8,165.3 L86.3,165.6 L87.8,165.1 L89.3,165.6 L90.8,166.0 L92.3,165.5 L93.8,165.3 L95.3,165.5 L96.8,165.5 L98.3,165.1 L99.8,165.1 L101.3,165.1 L102.8,165.3 L104.3,165.4 L105.8,165.3 L107.3,165.2 L108.8,165.1 L110.3,165.5 L111.8,165.8 L113.3,165.6 L114.8,165.6 L116.3,165.7 L117.8,165.2 L119.3,165.7 L120.8,165.5 L122.3,165.5 L123.8,165.6 L125.3,165.5 L126.8,165.3 L128.3,165.2 L129.8,165.2 L131.3,165.5 L132.8,165.4 L134.3,165.6 L135.8,165.0 L137.3,165.4 L138.2,165.9 L138.2,193.6 L137.3,193.8 L135.8,193.3 L134.3,193.5 L132.8,193.3 L131.3,193.3 L129.8,193.6 L128.3,193.4 L126.8,193.4 L125.3,193.9 L123.8,193.4 L122.3,193.7 L120.8,193.8 L119.3,193.4 L117.8,193.5 L116.3,192.9 L114.8,192.9 L113.3,193.8 L111.8,193.3 L110.3,193.1 L108.8,193.9 L107.3,193.7 L105.8,193.7 L104.3,193.2 L102.8,193.8 L101.3,193.0 L99.8,193.5 L98.3,193.5 L96.8,193.0 L95.3,193.2 L93.8,193.1 L92.3,193.3 L90.8,193.4 L89.3,193.7 L87.8,193.7 L86.3,193.2 L84.8,193.3 L83.3,193.5 L81.8,193.3 L80.3,193.2 L78.8,193.6 L77.3,193.4 L75.8,193.4 L74.3,193.3 L72.8,193.5 L71.3,193.8 L69.8,193.7 L68.3,193.3 L66.8,193.5 L65.3,193.9 L63.8,193.4 L62.3,193.5 L60.8,193.7 L59.3,192.9 L57.8,193.8 L56.3,193.0 L54.8,193.8 L53.3,193.6 L51.8,193.7 L50.3,193.4 L48.8,193.7 L47.3,193.6 L45.8,193.6 L44.3,193.4 L42.8,193.7 L41.3,193.7 L39.8,193.5 L38.3,193.6 L36.8,193.3 L35.3,193.2 L33.8,193.1 L32.3,193.6 L30.8,193.9 L29.3,193.1 L27.8,193.0 L26.3,193.6 L24.8,193.3 L23.3,193.3 L21.8,193.0 L20.3,193.3 L18.8,193.8 L17.3,193.0 L15.8,193.1 L14.3,193.7 L12.8,193.2 L11.3,193.9 L9.8,193.2 L8.3,193.4 L6.8,193.5 L5.3,193.1 Z" fill="#0b0a0a"/>
<text x="32.9" y="137.8" font-family="'Liberation Serif','Times New Roman',serif" class="y" font-weight="bold" font-size="7.9" fill="#e6e41e" style="stroke:none" textLength="22.0" lengthAdjust="spacingAndGlyphs">0.1mm</text>
<rect x="105.7" y="208.0" width="31.6" height="17.4" fill="#fdfdfc"/>
<rect x="110.5" y="210.9" width="22.2" height="1.8" fill="#050505"/>
<text x="112.3" y="221.6" font-family="'Liberation Serif','Times New Roman',serif" font-size="8" fill="#1a1a1a" textLength="17.7" lengthAdjust="spacingAndGlyphs">50μm</text>
<linearGradient id="g5" x1="0" y1="0" x2="0" y2="1"><stop offset="0" stop-color="#98928f"/><stop offset="0.35" stop-color="#999390"/><stop offset="0.65" stop-color="#9a9491"/><stop offset="1" stop-color="#9b9592"/></linearGradient>
<rect x="142.4" y="126.9" width="131.5" height="98.6" fill="url(#g5)"/>
<rect x="142.8" y="127.30000000000001" width="130.7" height="97.8" fill="none" stroke="#6f6c68" stroke-width="0.8" opacity="0.45"/>
<rect x="142.4" y="162.3" width="131.5" height="1.8" fill="#aaa6a2" opacity="0.55"/>
<rect x="142.4" y="194.0" width="131.5" height="2.2" fill="#b0aca8" opacity="0.55"/>
<path d="M142.4,164.1 Q144.5,163.1 146.5,164.1 Z" fill="#0c0b0b" opacity="0.52"/>
<path d="M146.5,164.1 Q148.3,162.3 150.1,164.1 Z" fill="#0c0b0b" opacity="0.61"/>
<path d="M150.1,164.1 Q152.9,161.6 155.6,164.1 Z" fill="#0c0b0b" opacity="0.57"/>
<path d="M155.6,164.1 Q157.5,162.2 159.4,164.1 Z" fill="#0c0b0b" opacity="0.80"/>
<path d="M159.4,164.1 Q161.1,162.3 162.8,164.1 Z" fill="#0c0b0b" opacity="0.72"/>
<path d="M162.8,164.1 Q164.1,162.7 165.4,164.1 Z" fill="#0c0b0b" opacity="0.79"/>
<path d="M165.4,164.1 Q168.1,162.4 170.7,164.1 Z" fill="#0c0b0b" opacity="0.40"/>
<path d="M170.7,164.1 Q173.5,162.1 176.3,164.1 Z" fill="#0c0b0b" opacity="0.72"/>
<path d="M176.3,164.1 Q179.3,161.7 182.3,164.1 Z" fill="#0c0b0b" opacity="0.54"/>
<path d="M182.3,164.1 Q183.6,162.8 184.9,164.1 Z" fill="#0c0b0b" opacity="0.58"/>
<path d="M184.9,164.1 Q186.9,163.0 188.9,164.1 Z" fill="#0c0b0b" opacity="0.43"/>
<path d="M188.9,164.1 Q191.2,162.2 193.4,164.1 Z" fill="#0c0b0b" opacity="0.51"/>
<path d="M193.4,164.1 Q196.4,162.2 199.4,164.1 Z" fill="#0c0b0b" opacity="0.37"/>
<path d="M199.4,164.1 Q201.2,161.9 203.1,164.1 Z" fill="#0c0b0b" opacity="0.49"/>
<path d="M203.1,164.1 Q205.5,163.3 207.8,164.1 Z" fill="#0c0b0b" opacity="0.49"/>
<path d="M207.8,164.1 Q210.5,162.2 213.2,164.1 Z" fill="#0c0b0b" opacity="0.65"/>
<path d="M213.2,164.1 Q214.6,162.4 216.0,164.1 Z" fill="#0c0b0b" opacity="0.60"/>
<path d="M216.0,164.1 Q217.5,162.1 219.1,164.1 Z" fill="#0c0b0b" opacity="0.59"/>
<path d="M219.1,164.1 Q222.0,162.3 225.0,164.1 Z" fill="#0c0b0b" opacity="0.53"/>
<path d="M225.0,164.1 Q226.3,163.0 227.5,164.1 Z" fill="#0c0b0b" opacity="0.69"/>
<path d="M227.5,164.1 Q228.7,163.1 230.0,164.1 Z" fill="#0c0b0b" opacity="0.43"/>
<path d="M230.0,164.1 Q232.0,161.8 234.0,164.1 Z" fill="#0c0b0b" opacity="0.63"/>
<path d="M234.0,164.1 Q236.7,163.2 239.3,164.1 Z" fill="#0c0b0b" opacity="0.36"/>
<path d="M239.3,164.1 Q241.8,162.7 244.4,164.1 Z" fill="#0c0b0b" opacity="0.67"/>
<path d="M244.4,164.1 Q246.1,163.0 247.8,164.1 Z" fill="#0c0b0b" opacity="0.47"/>
<path d="M247.8,164.1 Q249.0,161.7 250.2,164.1 Z" fill="#0c0b0b" opacity="0.61"/>
<path d="M250.2,164.1 Q251.9,162.5 253.6,164.1 Z" fill="#0c0b0b" opacity="0.52"/>
<path d="M253.6,164.1 Q254.7,161.7 255.8,164.1 Z" fill="#0c0b0b" opacity="0.61"/>
<path d="M255.8,164.1 Q258.7,162.5 261.6,164.1 Z" fill="#0c0b0b" opacity="0.63"/>
<path d="M261.6,164.1 Q263.1,163.2 264.6,164.1 Z" fill="#0c0b0b" opacity="0.77"/>
<path d="M264.6,164.1 Q267.3,162.7 270.0,164.1 Z" fill="#0c0b0b" opacity="0.75"/>
<path d="M270.0,164.1 Q272.0,162.8 273.9,164.1 Z" fill="#0c0b0b" opacity="0.62"/>
<ellipse cx="266.8" cy="163.0" rx="1.8" ry="1.8" fill="#b4b0ac" fill-opacity="0.35" stroke="#2e2a28" stroke-width="0.4" stroke-opacity="0.75"/>
<ellipse cx="175.4" cy="163.2" rx="1.6" ry="1.4" fill="#b4b0ac" fill-opacity="0.35" stroke="#2e2a28" stroke-width="0.4" stroke-opacity="0.75"/>
<ellipse cx="172.6" cy="163.2" rx="1.5" ry="1.4" fill="#b4b0ac" fill-opacity="0.35" stroke="#2e2a28" stroke-width="0.4" stroke-opacity="0.75"/>
<ellipse cx="206.2" cy="163.2" rx="2.3" ry="1.6" fill="#b4b0ac" fill-opacity="0.35" stroke="#2e2a28" stroke-width="0.4" stroke-opacity="0.75"/>
<ellipse cx="166.5" cy="163.5" rx="1.6" ry="1.1" fill="#b4b0ac" fill-opacity="0.35" stroke="#2e2a28" stroke-width="0.4" stroke-opacity="0.75"/>
<ellipse cx="268.3" cy="163.4" rx="1.5" ry="1.2" fill="#b4b0ac" fill-opacity="0.35" stroke="#2e2a28" stroke-width="0.4" stroke-opacity="0.75"/>
<ellipse cx="159.0" cy="163.3" rx="1.9" ry="1.4" fill="#b4b0ac" fill-opacity="0.35" stroke="#2e2a28" stroke-width="0.4" stroke-opacity="0.75"/>
<ellipse cx="195.8" cy="163.7" rx="1.1" ry="0.7" fill="#b4b0ac" fill-opacity="0.35" stroke="#2e2a28" stroke-width="0.4" stroke-opacity="0.75"/>
<ellipse cx="249.7" cy="163.4" rx="1.6" ry="1.1" fill="#b4b0ac" fill-opacity="0.35" stroke="#2e2a28" stroke-width="0.4" stroke-opacity="0.75"/>
<ellipse cx="168.8" cy="163.5" rx="1.5" ry="1.0" fill="#b4b0ac" fill-opacity="0.35" stroke="#2e2a28" stroke-width="0.4" stroke-opacity="0.75"/>
<path d="M142.4,193.4 Q143.5,195.4 144.5,193.4 Z" fill="#0c0b0b" opacity="0.50"/>
<path d="M144.5,193.4 Q145.9,195.5 147.2,193.4 Z" fill="#0c0b0b" opacity="0.39"/>
<path d="M147.2,193.4 Q148.7,195.7 150.2,193.4 Z" fill="#0c0b0b" opacity="0.41"/>
<path d="M150.2,193.4 Q152.1,195.7 154.0,193.4 Z" fill="#0c0b0b" opacity="0.71"/>
<path d="M154.0,193.4 Q155.3,194.8 156.7,193.4 Z" fill="#0c0b0b" opacity="0.68"/>
<path d="M156.7,193.4 Q158.4,195.9 160.2,193.4 Z" fill="#0c0b0b" opacity="0.44"/>
<path d="M160.2,193.4 Q163.1,195.1 166.0,193.4 Z" fill="#0c0b0b" opacity="0.45"/>
<path d="M166.0,193.4 Q167.9,194.4 169.8,193.4 Z" fill="#0c0b0b" opacity="0.67"/>
<path d="M169.8,193.4 Q171.3,195.8 172.8,193.4 Z" fill="#0c0b0b" opacity="0.61"/>
<path d="M172.8,193.4 Q174.6,194.6 176.3,193.4 Z" fill="#0c0b0b" opacity="0.62"/>
<path d="M176.3,193.4 Q177.7,195.8 179.1,193.4 Z" fill="#0c0b0b" opacity="0.41"/>
<path d="M179.1,193.4 Q181.2,195.2 183.2,193.4 Z" fill="#0c0b0b" opacity="0.47"/>
<path d="M183.2,193.4 Q185.7,194.9 188.3,193.4 Z" fill="#0c0b0b" opacity="0.65"/>
<path d="M188.3,193.4 Q190.4,194.8 192.5,193.4 Z" fill="#0c0b0b" opacity="0.53"/>
<path d="M192.5,193.4 Q193.7,194.5 194.9,193.4 Z" fill="#0c0b0b" opacity="0.73"/>
<path d="M194.9,193.4 Q196.5,195.4 198.2,193.4 Z" fill="#0c0b0b" opacity="0.40"/>
<path d="M198.2,193.4 Q200.3,194.9 202.4,193.4 Z" fill="#0c0b0b" opacity="0.58"/>
<path d="M202.4,193.4 Q204.0,194.3 205.6,193.4 Z" fill="#0c0b0b" opacity="0.49"/>
<path d="M205.6,193.4 Q207.1,194.4 208.5,193.4 Z" fill="#0c0b0b" opacity="0.67"/>
<path d="M208.5,193.4 Q210.1,194.9 211.6,193.4 Z" fill="#0c0b0b" opacity="0.76"/>
<path d="M211.6,193.4 Q214.2,195.8 216.7,193.4 Z" fill="#0c0b0b" opacity="0.74"/>
<path d="M216.7,193.4 Q218.0,194.7 219.3,193.4 Z" fill="#0c0b0b" opacity="0.36"/>
<path d="M219.3,193.4 Q221.6,195.4 224.0,193.4 Z" fill="#0c0b0b" opacity="0.51"/>
<path d="M224.0,193.4 Q225.8,195.4 227.6,193.4 Z" fill="#0c0b0b" opacity="0.66"/>
<path d="M227.6,193.4 Q229.1,195.7 230.6,193.4 Z" fill="#0c0b0b" opacity="0.51"/>
<path d="M230.6,193.4 Q232.9,194.5 235.2,193.4 Z" fill="#0c0b0b" opacity="0.40"/>
<path d="M235.2,193.4 Q238.0,195.5 240.8,193.4 Z" fill="#0c0b0b" opacity="0.67"/>
<path d="M240.8,193.4 Q241.9,194.3 243.0,193.4 Z" fill="#0c0b0b" opacity="0.42"/>
<path d="M243.0,193.4 Q244.4,194.7 245.8,193.4 Z" fill="#0c0b0b" opacity="0.52"/>
<path d="M245.8,193.4 Q246.8,194.8 247.9,193.4 Z" fill="#0c0b0b" opacity="0.64"/>
<path d="M247.9,193.4 Q249.3,195.7 250.6,193.4 Z" fill="#0c0b0b" opacity="0.61"/>
<path d="M250.6,193.4 Q253.1,194.7 255.5,193.4 Z" fill="#0c0b0b" opacity="0.55"/>
<path d="M255.5,193.4 Q257.9,194.8 260.2,193.4 Z" fill="#0c0b0b" opacity="0.35"/>
<path d="M260.2,193.4 Q262.9,195.6 265.6,193.4 Z" fill="#0c0b0b" opacity="0.48"/>
<path d="M265.6,193.4 Q266.7,195.7 267.7,193.4 Z" fill="#0c0b0b" opacity="0.62"/>
<path d="M267.7,193.4 Q268.8,194.6 269.9,193.4 Z" fill="#0c0b0b" opacity="0.40"/>
<path d="M269.9,193.4 Q271.9,194.6 273.9,193.4 Z" fill="#0c0b0b" opacity="0.76"/>
<ellipse cx="240.0" cy="194.0" rx="1.1" ry="1.0" fill="#b4b0ac" fill-opacity="0.35" stroke="#2e2a28" stroke-width="0.4" stroke-opacity="0.75"/>
<ellipse cx="194.6" cy="194.6" rx="2.2" ry="2.0" fill="#b4b0ac" fill-opacity="0.35" stroke="#2e2a28" stroke-width="0.4" stroke-opacity="0.75"/>
<ellipse cx="180.2" cy="194.1" rx="1.1" ry="1.1" fill="#b4b0ac" fill-opacity="0.35" stroke="#2e2a28" stroke-width="0.4" stroke-opacity="0.75"/>
<ellipse cx="198.5" cy="194.7" rx="2.5" ry="2.2" fill="#b4b0ac" fill-opacity="0.35" stroke="#2e2a28" stroke-width="0.4" stroke-opacity="0.75"/>
<ellipse cx="238.6" cy="194.6" rx="2.3" ry="2.0" fill="#b4b0ac" fill-opacity="0.35" stroke="#2e2a28" stroke-width="0.4" stroke-opacity="0.75"/>
<ellipse cx="202.1" cy="194.0" rx="1.1" ry="1.0" fill="#b4b0ac" fill-opacity="0.35" stroke="#2e2a28" stroke-width="0.4" stroke-opacity="0.75"/>
<ellipse cx="199.0" cy="194.5" rx="1.8" ry="1.8" fill="#b4b0ac" fill-opacity="0.35" stroke="#2e2a28" stroke-width="0.4" stroke-opacity="0.75"/>
<ellipse cx="160.7" cy="194.2" rx="2.2" ry="1.4" fill="#b4b0ac" fill-opacity="0.35" stroke="#2e2a28" stroke-width="0.4" stroke-opacity="0.75"/>
<ellipse cx="234.0" cy="194.4" rx="2.3" ry="1.6" fill="#b4b0ac" fill-opacity="0.35" stroke="#2e2a28" stroke-width="0.4" stroke-opacity="0.75"/>
<ellipse cx="214.1" cy="194.7" rx="2.6" ry="2.2" fill="#b4b0ac" fill-opacity="0.35" stroke="#2e2a28" stroke-width="0.4" stroke-opacity="0.75"/>
<path d="M142.4,164.1 L143.9,163.8 L145.4,163.7 L146.9,164.0 L148.4,164.0 L149.9,163.8 L151.4,163.9 L152.9,163.7 L154.4,164.3 L155.9,164.3 L157.4,163.8 L158.9,163.8 L160.4,164.1 L161.9,164.0 L163.4,164.5 L164.9,164.0 L166.4,163.9 L167.9,164.5 L169.4,163.7 L170.9,164.2 L172.4,163.9 L173.9,164.4 L175.4,164.1 L176.9,164.4 L178.4,163.8 L179.9,164.3 L181.4,164.2 L182.9,164.1 L184.4,164.4 L185.9,164.4 L187.4,163.7 L188.9,163.9 L190.4,164.0 L191.9,163.8 L193.4,163.7 L194.9,163.9 L196.4,163.8 L197.9,164.3 L199.4,164.0 L200.9,163.7 L202.4,163.9 L203.9,164.1 L205.4,164.0 L206.9,163.8 L208.4,163.7 L209.9,163.6 L211.4,164.6 L212.9,164.4 L214.4,163.7 L215.9,164.3 L217.4,164.6 L218.9,164.2 L220.4,163.7 L221.9,164.1 L223.4,164.0 L224.9,163.8 L226.4,164.1 L227.9,163.6 L229.4,164.5 L230.9,164.2 L232.4,164.2 L233.9,164.5 L235.4,164.3 L236.9,163.9 L238.4,163.8 L239.9,163.7 L241.4,163.6 L242.9,164.4 L244.4,164.4 L245.9,163.9 L247.4,163.8 L248.9,164.2 L250.4,164.4 L251.9,164.5 L253.4,163.8 L254.9,164.4 L256.4,164.4 L257.9,164.3 L259.4,163.9 L260.9,163.8 L262.4,164.4 L263.9,163.9 L265.4,164.0 L266.9,164.2 L268.4,164.0 L269.9,164.4 L271.4,163.8 L272.9,163.6 L273.9,164.2 L273.9,193.4 L272.9,193.0 L271.4,193.5 L269.9,193.1 L268.4,193.5 L266.9,193.4 L265.4,193.2 L263.9,193.4 L262.4,193.0 L260.9,193.2 L259.4,193.8 L257.9,193.0 L256.4,193.4 L254.9,193.8 L253.4,193.1 L251.9,193.0 L250.4,193.3 L248.9,193.5 L247.4,193.4 L245.9,193.3 L244.4,193.5 L242.9,193.3 L241.4,193.6 L239.9,193.0 L238.4,193.3 L236.9,193.6 L235.4,193.1 L233.9,192.9 L232.4,193.8 L230.9,193.2 L229.4,193.2 L227.9,193.5 L226.4,193.4 L224.9,193.9 L223.4,193.5 L221.9,193.2 L220.4,193.5 L218.9,193.6 L217.4,193.0 L215.9,193.7 L214.4,193.5 L212.9,193.9 L211.4,193.9 L209.9,193.8 L208.4,193.8 L206.9,193.9 L205.4,193.4 L203.9,193.2 L202.4,193.0 L200.9,193.1 L199.4,193.2 L197.9,193.5 L196.4,193.3 L194.9,193.2 L193.4,193.1 L191.9,193.8 L190.4,193.7 L188.9,193.6 L187.4,193.3 L185.9,193.2 L184.4,193.3 L182.9,193.4 L181.4,193.6 L179.9,193.2 L178.4,193.3 L176.9,193.7 L175.4,193.8 L173.9,193.7 L172.4,192.9 L170.9,193.6 L169.4,193.1 L167.9,193.3 L166.4,192.9 L164.9,193.0 L163.4,193.9 L161.9,193.3 L160.4,193.1 L158.9,193.6 L157.4,193.0 L155.9,193.5 L154.4,193.2 L152.9,193.1 L151.4,193.4 L149.9,193.4 L148.4,193.8 L146.9,193.8 L145.4,193.6 L143.9,193.7 L142.4,193.5 Z" fill="#0c0b0b"/>
<text x="169.3" y="137.8" font-family="'Liberation Serif','Times New Roman',serif" class="y" font-weight="bold" font-size="7.9" fill="#e6e41e" style="stroke:none" textLength="22.1" lengthAdjust="spacingAndGlyphs">0.2mm</text>
<rect x="240.7" y="208.2" width="31.3" height="16.8" fill="#fdfdfc"/>
<rect x="245.5" y="211.0" width="22.0" height="1.7" fill="#050505"/>
<text x="247.5" y="221.5" font-family="'Liberation Serif','Times New Roman',serif" font-size="8" fill="#1a1a1a" textLength="17.5" lengthAdjust="spacingAndGlyphs">50μm</text>
<linearGradient id="g6" x1="0" y1="0" x2="0" y2="1"><stop offset="0" stop-color="#98928f"/><stop offset="0.35" stop-color="#999390"/><stop offset="0.65" stop-color="#9a9491"/><stop offset="1" stop-color="#9b9592"/></linearGradient>
<rect x="277.8" y="125.8" width="130.8" height="99.6" fill="url(#g6)"/>
<rect x="278.2" y="126.2" width="130.0" height="98.8" fill="none" stroke="#6f6c68" stroke-width="0.8" opacity="0.45"/>
<rect x="277.8" y="158.5" width="130.8" height="1.8" fill="#aaa6a2" opacity="0.55"/>
<rect x="277.8" y="189.5" width="130.8" height="2.2" fill="#b0aca8" opacity="0.55"/>
<path d="M277.8,160.3 Q280.0,159.3 282.2,160.3 Z" fill="#0c0b0b" opacity="0.53"/>
<path d="M282.2,160.3 Q283.3,158.4 284.4,160.3 Z" fill="#0c0b0b" opacity="0.74"/>
<path d="M284.4,160.3 Q286.5,157.8 288.6,160.3 Z" fill="#0c0b0b" opacity="0.69"/>
<path d="M288.6,160.3 Q289.9,157.1 291.1,160.3 Z" fill="#0c0b0b" opacity="0.67"/>
<path d="M291.1,160.3 Q292.3,157.5 293.5,160.3 Z" fill="#0c0b0b" opacity="0.53"/>
<path d="M293.5,160.3 Q294.9,157.2 296.2,160.3 Z" fill="#0c0b0b" opacity="0.60"/>
<path d="M296.2,160.3 Q298.8,159.2 301.3,160.3 Z" fill="#0c0b0b" opacity="0.70"/>
<path d="M301.3,160.3 Q302.4,158.9 303.5,160.3 Z" fill="#0c0b0b" opacity="0.52"/>
<path d="M303.5,160.3 Q304.6,158.1 305.6,160.3 Z" fill="#0c0b0b" opacity="0.45"/>
<path d="M305.6,160.3 Q307.2,157.8 308.8,160.3 Z" fill="#0c0b0b" opacity="0.54"/>
<path d="M308.8,160.3 Q311.6,158.0 314.3,160.3 Z" fill="#0c0b0b" opacity="0.74"/>
<path d="M314.3,160.3 Q316.5,157.3 318.6,160.3 Z" fill="#0c0b0b" opacity="0.74"/>
<path d="M318.6,160.3 Q319.9,157.7 321.3,160.3 Z" fill="#0c0b0b" opacity="0.50"/>
<path d="M321.3,160.3 Q323.8,157.9 326.3,160.3 Z" fill="#0c0b0b" opacity="0.72"/>
<path d="M326.3,160.3 Q327.6,158.6 328.8,160.3 Z" fill="#0c0b0b" opacity="0.68"/>
<path d="M328.8,160.3 Q331.7,157.8 334.6,160.3 Z" fill="#0c0b0b" opacity="0.37"/>
<path d="M334.6,160.3 Q336.8,159.3 339.0,160.3 Z" fill="#0c0b0b" opacity="0.60"/>
<path d="M339.0,160.3 Q341.6,159.2 344.2,160.3 Z" fill="#0c0b0b" opacity="0.77"/>
<path d="M344.2,160.3 Q346.6,158.9 348.9,160.3 Z" fill="#0c0b0b" opacity="0.44"/>
<path d="M348.9,160.3 Q350.8,157.5 352.7,160.3 Z" fill="#0c0b0b" opacity="0.61"/>
<path d="M352.7,160.3 Q354.0,159.4 355.2,160.3 Z" fill="#0c0b0b" opacity="0.40"/>
<path d="M355.2,160.3 Q357.8,159.1 360.4,160.3 Z" fill="#0c0b0b" opacity="0.60"/>
<path d="M360.4,160.3 Q362.0,157.9 363.5,160.3 Z" fill="#0c0b0b" opacity="0.52"/>
<path d="M363.5,160.3 Q364.8,157.4 366.1,160.3 Z" fill="#0c0b0b" opacity="0.59"/>
<path d="M366.1,160.3 Q368.5,157.6 370.9,160.3 Z" fill="#0c0b0b" opacity="0.78"/>
<path d="M370.9,160.3 Q371.9,158.7 372.9,160.3 Z" fill="#0c0b0b" opacity="0.42"/>
<path d="M372.9,160.3 Q374.9,157.4 376.9,160.3 Z" fill="#0c0b0b" opacity="0.71"/>
<path d="M376.9,160.3 Q378.0,159.1 379.1,160.3 Z" fill="#0c0b0b" opacity="0.72"/>
<path d="M379.1,160.3 Q381.4,158.6 383.8,160.3 Z" fill="#0c0b0b" opacity="0.56"/>
<path d="M383.8,160.3 Q385.1,157.5 386.4,160.3 Z" fill="#0c0b0b" opacity="0.53"/>
<path d="M386.4,160.3 Q389.2,158.0 391.9,160.3 Z" fill="#0c0b0b" opacity="0.38"/>
<path d="M391.9,160.3 Q393.6,159.0 395.2,160.3 Z" fill="#0c0b0b" opacity="0.75"/>
<path d="M395.2,160.3 Q397.4,159.4 399.6,160.3 Z" fill="#0c0b0b" opacity="0.43"/>
<path d="M399.6,160.3 Q401.3,158.4 403.0,160.3 Z" fill="#0c0b0b" opacity="0.61"/>
<path d="M403.0,160.3 Q404.8,158.7 406.6,160.3 Z" fill="#0c0b0b" opacity="0.35"/>
<path d="M406.6,160.3 Q407.6,158.7 408.6,160.3 Z" fill="#0c0b0b" opacity="0.36"/>
<ellipse cx="338.1" cy="159.3" rx="2.6" ry="1.6" fill="#b4b0ac" fill-opacity="0.35" stroke="#2e2a28" stroke-width="0.4" stroke-opacity="0.75"/>
<ellipse cx="298.3" cy="159.4" rx="2.1" ry="1.5" fill="#b4b0ac" fill-opacity="0.35" stroke="#2e2a28" stroke-width="0.4" stroke-opacity="0.75"/>
<ellipse cx="314.5" cy="159.5" rx="1.8" ry="1.3" fill="#b4b0ac" fill-opacity="0.35" stroke="#2e2a28" stroke-width="0.4" stroke-opacity="0.75"/>
<ellipse cx="351.9" cy="159.2" rx="1.8" ry="1.8" fill="#b4b0ac" fill-opacity="0.35" stroke="#2e2a28" stroke-width="0.4" stroke-opacity="0.75"/>
<ellipse cx="405.6" cy="159.8" rx="1.1" ry="0.9" fill="#b4b0ac" fill-opacity="0.35" stroke="#2e2a28" stroke-width="0.4" stroke-opacity="0.75"/>
<ellipse cx="377.6" cy="159.0" rx="2.4" ry="2.2" fill="#b4b0ac" fill-opacity="0.35" stroke="#2e2a28" stroke-width="0.4" stroke-opacity="0.75"/>
<ellipse cx="360.1" cy="159.4" rx="2.0" ry="1.5" fill="#b4b0ac" fill-opacity="0.35" stroke="#2e2a28" stroke-width="0.4" stroke-opacity="0.75"/>
<ellipse cx="315.5" cy="159.0" rx="2.3" ry="2.2" fill="#b4b0ac" fill-opacity="0.35" stroke="#2e2a28" stroke-width="0.4" stroke-opacity="0.75"/>
<ellipse cx="398.8" cy="159.4" rx="2.1" ry="1.5" fill="#b4b0ac" fill-opacity="0.35" stroke="#2e2a28" stroke-width="0.4" stroke-opacity="0.75"/>
<ellipse cx="376.6" cy="159.2" rx="2.2" ry="1.8" fill="#b4b0ac" fill-opacity="0.35" stroke="#2e2a28" stroke-width="0.4" stroke-opacity="0.75"/>
<ellipse cx="360.3" cy="159.5" rx="1.6" ry="1.3" fill="#b4b0ac" fill-opacity="0.35" stroke="#2e2a28" stroke-width="0.4" stroke-opacity="0.75"/>
<ellipse cx="331.3" cy="159.8" rx="1.1" ry="0.8" fill="#b4b0ac" fill-opacity="0.35" stroke="#2e2a28" stroke-width="0.4" stroke-opacity="0.75"/>
<ellipse cx="320.8" cy="159.1" rx="2.6" ry="2.0" fill="#b4b0ac" fill-opacity="0.35" stroke="#2e2a28" stroke-width="0.4" stroke-opacity="0.75"/>
<ellipse cx="326.4" cy="159.7" rx="1.4" ry="1.0" fill="#b4b0ac" fill-opacity="0.35" stroke="#2e2a28" stroke-width="0.4" stroke-opacity="0.75"/>
<path d="M277.8,188.9 Q279.5,190.0 281.2,188.9 Z" fill="#0c0b0b" opacity="0.35"/>
<path d="M281.2,188.9 Q283.9,190.8 286.7,188.9 Z" fill="#0c0b0b" opacity="0.55"/>
<path d="M286.7,188.9 Q288.8,190.4 291.0,188.9 Z" fill="#0c0b0b" opacity="0.43"/>
<path d="M291.0,188.9 Q292.1,190.4 293.2,188.9 Z" fill="#0c0b0b" opacity="0.49"/>
<path d="M293.2,188.9 Q295.7,191.0 298.1,188.9 Z" fill="#0c0b0b" opacity="0.77"/>
<path d="M298.1,188.9 Q299.8,191.9 301.5,188.9 Z" fill="#0c0b0b" opacity="0.61"/>
<path d="M301.5,188.9 Q302.6,190.1 303.8,188.9 Z" fill="#0c0b0b" opacity="0.61"/>
<path d="M303.8,188.9 Q306.8,190.6 309.8,188.9 Z" fill="#0c0b0b" opacity="0.70"/>
<path d="M309.8,188.9 Q311.6,191.8 313.5,188.9 Z" fill="#0c0b0b" opacity="0.38"/>
<path d="M313.5,188.9 Q315.4,191.9 317.4,188.9 Z" fill="#0c0b0b" opacity="0.47"/>
<path d="M317.4,188.9 Q318.9,189.8 320.4,188.9 Z" fill="#0c0b0b" opacity="0.42"/>
<path d="M320.4,188.9 Q322.0,191.4 323.5,188.9 Z" fill="#0c0b0b" opacity="0.45"/>
<path d="M323.5,188.9 Q325.3,190.2 327.1,188.9 Z" fill="#0c0b0b" opacity="0.62"/>
<path d="M327.1,188.9 Q329.8,191.3 332.6,188.9 Z" fill="#0c0b0b" opacity="0.44"/>
<path d="M332.6,188.9 Q335.0,192.0 337.5,188.9 Z" fill="#0c0b0b" opacity="0.62"/>
<path d="M337.5,188.9 Q338.7,191.6 339.8,188.9 Z" fill="#0c0b0b" opacity="0.74"/>
<path d="M339.8,188.9 Q341.5,190.0 343.2,188.9 Z" fill="#0c0b0b" opacity="0.43"/>
<path d="M343.2,188.9 Q345.3,191.8 347.3,188.9 Z" fill="#0c0b0b" opacity="0.64"/>
<path d="M347.3,188.9 Q350.2,190.2 353.0,188.9 Z" fill="#0c0b0b" opacity="0.50"/>
<path d="M353.0,188.9 Q355.5,191.3 358.0,188.9 Z" fill="#0c0b0b" opacity="0.53"/>
<path d="M358.0,188.9 Q360.4,190.5 362.7,188.9 Z" fill="#0c0b0b" opacity="0.38"/>
<path d="M362.7,188.9 Q364.6,189.8 366.4,188.9 Z" fill="#0c0b0b" opacity="0.63"/>
<path d="M366.4,188.9 Q368.1,190.9 369.7,188.9 Z" fill="#0c0b0b" opacity="0.62"/>
<path d="M369.7,188.9 Q371.2,190.8 372.8,188.9 Z" fill="#0c0b0b" opacity="0.36"/>
<path d="M372.8,188.9 Q375.6,191.1 378.5,188.9 Z" fill="#0c0b0b" opacity="0.79"/>
<path d="M378.5,188.9 Q379.6,191.2 380.7,188.9 Z" fill="#0c0b0b" opacity="0.68"/>
<path d="M380.7,188.9 Q382.3,189.9 384.0,188.9 Z" fill="#0c0b0b" opacity="0.42"/>
<path d="M384.0,188.9 Q385.3,191.5 386.6,188.9 Z" fill="#0c0b0b" opacity="0.39"/>
<path d="M386.6,188.9 Q389.2,190.7 391.8,188.9 Z" fill="#0c0b0b" opacity="0.59"/>
<path d="M391.8,188.9 Q394.0,191.0 396.2,188.9 Z" fill="#0c0b0b" opacity="0.65"/>
<path d="M396.2,188.9 Q398.4,190.5 400.6,188.9 Z" fill="#0c0b0b" opacity="0.68"/>
<path d="M400.6,188.9 Q402.1,191.4 403.6,188.9 Z" fill="#0c0b0b" opacity="0.69"/>
<path d="M403.6,188.9 Q406.1,190.4 408.6,188.9 Z" fill="#0c0b0b" opacity="0.70"/>
<ellipse cx="403.7" cy="189.6" rx="1.7" ry="1.2" fill="#b4b0ac" fill-opacity="0.35" stroke="#2e2a28" stroke-width="0.4" stroke-opacity="0.75"/>
<ellipse cx="346.2" cy="189.9" rx="2.5" ry="1.6" fill="#b4b0ac" fill-opacity="0.35" stroke="#2e2a28" stroke-width="0.4" stroke-opacity="0.75"/>
<ellipse cx="280.9" cy="189.8" rx="1.8" ry="1.5" fill="#b4b0ac" fill-opacity="0.35" stroke="#2e2a28" stroke-width="0.4" stroke-opacity="0.75"/>
<ellipse cx="378.0" cy="189.8" rx="1.6" ry="1.6" fill="#b4b0ac" fill-opacity="0.35" stroke="#2e2a28" stroke-width="0.4" stroke-opacity="0.75"/>
<ellipse cx="308.7" cy="189.7" rx="2.2" ry="1.4" fill="#b4b0ac" fill-opacity="0.35" stroke="#2e2a28" stroke-width="0.4" stroke-opacity="0.75"/>
<ellipse cx="283.3" cy="189.4" rx="1.2" ry="0.8" fill="#b4b0ac" fill-opacity="0.35" stroke="#2e2a28" stroke-width="0.4" stroke-opacity="0.75"/>
<ellipse cx="343.4" cy="189.7" rx="1.9" ry="1.3" fill="#b4b0ac" fill-opacity="0.35" stroke="#2e2a28" stroke-width="0.4" stroke-opacity="0.75"/>
<ellipse cx="399.0" cy="189.5" rx="1.6" ry="1.0" fill="#b4b0ac" fill-opacity="0.35" stroke="#2e2a28" stroke-width="0.4" stroke-opacity="0.75"/>
<ellipse cx="302.3" cy="190.2" rx="2.2" ry="2.1" fill="#b4b0ac" fill-opacity="0.35" stroke="#2e2a28" stroke-width="0.4" stroke-opacity="0.75"/>
<ellipse cx="300.4" cy="189.5" rx="1.0" ry="1.0" fill="#b4b0ac" fill-opacity="0.35" stroke="#2e2a28" stroke-width="0.4" stroke-opacity="0.75"/>
<ellipse cx="310.6" cy="190.1" rx="2.6" ry="2.1" fill="#b4b0ac" fill-opacity="0.35" stroke="#2e2a28" stroke-width="0.4" stroke-opacity="0.75"/>
<ellipse cx="360.5" cy="189.8" rx="1.6" ry="1.4" fill="#b4b0ac" fill-opacity="0.35" stroke="#2e2a28" stroke-width="0.4" stroke-opacity="0.75"/>
<ellipse cx="338.1" cy="189.8" rx="1.5" ry="1.5" fill="#b4b0ac" fill-opacity="0.35" stroke="#2e2a28" stroke-width="0.4" stroke-opacity="0.75"/>
<ellipse cx="293.5" cy="189.7" rx="2.2" ry="1.4" fill="#b4b0ac" fill-opacity="0.35" stroke="#2e2a28" stroke-width="0.4" stroke-opacity="0.75"/>
<path d="M277.8,160.4 L279.3,160.2 L280.8,160.7 L282.3,159.9 L283.8,160.4 L285.3,160.2 L286.8,160.7 L288.3,160.7 L289.8,160.4 L291.3,160.0 L292.8,160.1 L294.3,160.1 L295.8,160.2 L297.3,160.0 L298.8,160.0 L300.3,160.6 L301.8,160.4 L303.3,160.1 L304.8,160.8 L306.3,160.0 L307.8,160.4 L309.3,160.0 L310.8,160.7 L312.3,160.7 L313.8,160.1 L315.3,160.6 L316.8,160.6 L318.3,160.1 L319.8,160.1 L321.3,160.3 L322.8,160.7 L324.3,160.0 L325.8,160.5 L327.3,160.4 L328.8,160.3 L330.3,160.4 L331.8,160.7 L333.3,160.0 L334.8,160.7 L336.3,160.2 L337.8,160.6 L339.3,160.7 L340.8,160.0 L342.3,160.7 L343.8,160.8 L345.3,160.1 L346.8,159.8 L348.3,159.9 L349.8,160.8 L351.3,159.8 L352.8,160.7 L354.3,160.0 L355.8,160.5 L357.3,159.9 L358.8,160.0 L360.3,160.5 L361.8,159.9 L363.3,160.1 L364.8,160.7 L366.3,160.5 L367.8,160.7 L369.3,160.8 L370.8,159.8 L372.3,160.0 L373.8,160.6 L375.3,160.5 L376.8,159.8 L378.3,160.3 L379.8,160.0 L381.3,160.2 L382.8,159.9 L384.3,159.8 L385.8,160.8 L387.3,160.1 L388.8,160.7 L390.3,159.9 L391.8,160.3 L393.3,159.9 L394.8,160.2 L396.3,160.0 L397.8,160.5 L399.3,159.9 L400.8,160.5 L402.3,160.3 L403.8,159.9 L405.3,160.2 L406.8,160.3 L408.3,160.7 L408.6,160.1 L408.6,189.2 L408.3,189.0 L406.8,188.9 L405.3,189.2 L403.8,188.6 L402.3,188.6 L400.8,189.2 L399.3,188.9 L397.8,188.9 L396.3,188.9 L394.8,189.3 L393.3,188.5 L391.8,188.6 L390.3,188.9 L388.8,188.9 L387.3,189.1 L385.8,188.9 L384.3,189.3 L382.8,188.7 L381.3,189.0 L379.8,188.6 L378.3,188.9 L376.8,189.0 L375.3,188.7 L373.8,189.1 L372.3,189.0 L370.8,188.9 L369.3,188.8 L367.8,189.1 L366.3,188.8 L364.8,189.1 L363.3,189.0 L361.8,188.6 L360.3,189.4 L358.8,189.0 L357.3,188.9 L355.8,189.3 L354.3,189.1 L352.8,188.4 L351.3,189.4 L349.8,188.7 L348.3,188.9 L346.8,189.0 L345.3,188.7 L343.8,189.1 L342.3,188.4 L340.8,189.3 L339.3,189.2 L337.8,189.2 L336.3,188.5 L334.8,188.6 L333.3,188.6 L331.8,188.8 L330.3,189.0 L328.8,188.7 L327.3,189.3 L325.8,189.0 L324.3,188.4 L322.8,189.4 L321.3,188.5 L319.8,188.8 L318.3,188.8 L316.8,188.8 L315.3,189.4 L313.8,188.8 L312.3,188.7 L310.8,188.8 L309.3,189.1 L307.8,189.3 L306.3,189.4 L304.8,189.1 L303.3,188.9 L301.8,188.9 L300.3,189.1 L298.8,189.1 L297.3,188.4 L295.8,188.8 L294.3,189.0 L292.8,188.8 L291.3,188.9 L289.8,188.4 L288.3,188.5 L286.8,188.7 L285.3,188.6 L283.8,188.7 L282.3,189.1 L280.8,189.3 L279.3,189.4 L277.8,188.6 Z" fill="#0c0b0b"/>
<text x="295.7" y="138.0" font-family="'Liberation Serif','Times New Roman',serif" class="y" font-size="7.9" fill="#e6e41e" style="stroke:#e6e41e;stroke-width:0.18px" textLength="26.4" lengthAdjust="spacingAndGlyphs">0.30mm</text>
<rect x="375.7" y="208.0" width="31.3" height="17.0" fill="#fdfdfc"/>
<rect x="380.0" y="210.9" width="22.1" height="1.8" fill="#050505"/>
<text x="382.3" y="221.1" font-family="'Liberation Serif','Times New Roman',serif" font-size="8" fill="#1a1a1a" textLength="17.2" lengthAdjust="spacingAndGlyphs">50μm</text>
<linearGradient id="g7" x1="0" y1="0" x2="0" y2="1"><stop offset="0" stop-color="#999390"/><stop offset="0.35" stop-color="#9a9491"/><stop offset="0.65" stop-color="#9b9592"/><stop offset="1" stop-color="#9b9592"/></linearGradient>
<rect x="412.8" y="125.4" width="132.8" height="100.0" fill="url(#g7)"/>
<rect x="413.2" y="125.80000000000001" width="132.0" height="99.2" fill="none" stroke="#6f6c68" stroke-width="0.8" opacity="0.45"/>
<rect x="412.8" y="159.1" width="132.8" height="1.8" fill="#aaa6a2" opacity="0.55"/>
<rect x="412.8" y="190.0" width="132.8" height="2.2" fill="#b0aca8" opacity="0.55"/>
<path d="M412.8,160.9 Q415.6,158.4 418.4,160.9 Z" fill="#0c0b0b" opacity="0.37"/>
<path d="M418.4,160.9 Q420.1,158.4 421.9,160.9 Z" fill="#0c0b0b" opacity="0.72"/>
<path d="M421.9,160.9 Q423.1,159.8 424.4,160.9 Z" fill="#0c0b0b" opacity="0.46"/>
<path d="M424.4,160.9 Q425.6,159.4 426.8,160.9 Z" fill="#0c0b0b" opacity="0.71"/>
<path d="M426.8,160.9 Q428.8,159.2 430.9,160.9 Z" fill="#0c0b0b" opacity="0.39"/>
<path d="M430.9,160.9 Q432.7,158.1 434.5,160.9 Z" fill="#0c0b0b" opacity="0.66"/>
<path d="M434.5,160.9 Q436.4,159.1 438.3,160.9 Z" fill="#0c0b0b" opacity="0.71"/>
<path d="M438.3,160.9 Q440.8,159.8 443.3,160.9 Z" fill="#0c0b0b" opacity="0.66"/>
<path d="M443.3,160.9 Q445.0,159.1 446.8,160.9 Z" fill="#0c0b0b" opacity="0.46"/>
<path d="M446.8,160.9 Q448.5,159.4 450.3,160.9 Z" fill="#0c0b0b" opacity="0.52"/>
<path d="M450.3,160.9 Q451.3,159.7 452.3,160.9 Z" fill="#0c0b0b" opacity="0.61"/>
<path d="M452.3,160.9 Q453.4,159.7 454.6,160.9 Z" fill="#0c0b0b" opacity="0.67"/>
<path d="M454.6,160.9 Q456.1,159.5 457.7,160.9 Z" fill="#0c0b0b" opacity="0.46"/>
<path d="M457.7,160.9 Q460.3,159.9 463.0,160.9 Z" fill="#0c0b0b" opacity="0.64"/>
<path d="M463.0,160.9 Q465.7,159.7 468.4,160.9 Z" fill="#0c0b0b" opacity="0.54"/>
<path d="M468.4,160.9 Q471.0,158.9 473.6,160.9 Z" fill="#0c0b0b" opacity="0.52"/>
<path d="M473.6,160.9 Q474.7,159.2 475.8,160.9 Z" fill="#0c0b0b" opacity="0.52"/>
<path d="M475.8,160.9 Q478.2,159.5 480.6,160.9 Z" fill="#0c0b0b" opacity="0.53"/>
<path d="M480.6,160.9 Q482.9,158.5 485.2,160.9 Z" fill="#0c0b0b" opacity="0.51"/>
<path d="M485.2,160.9 Q487.0,158.9 488.8,160.9 Z" fill="#0c0b0b" opacity="0.77"/>
<path d="M488.8,160.9 Q490.1,158.2 491.5,160.9 Z" fill="#0c0b0b" opacity="0.67"/>
<path d="M491.5,160.9 Q493.3,158.8 495.0,160.9 Z" fill="#0c0b0b" opacity="0.50"/>
<path d="M495.0,160.9 Q496.2,158.6 497.3,160.9 Z" fill="#0c0b0b" opacity="0.52"/>
<path d="M497.3,160.9 Q499.3,159.1 501.4,160.9 Z" fill="#0c0b0b" opacity="0.76"/>
<path d="M501.4,160.9 Q503.9,160.0 506.4,160.9 Z" fill="#0c0b0b" opacity="0.62"/>
<path d="M506.4,160.9 Q508.4,159.2 510.3,160.9 Z" fill="#0c0b0b" opacity="0.73"/>
<path d="M510.3,160.9 Q512.1,159.2 513.9,160.9 Z" fill="#0c0b0b" opacity="0.75"/>
<path d="M513.9,160.9 Q515.8,159.1 517.7,160.9 Z" fill="#0c0b0b" opacity="0.58"/>
<path d="M517.7,160.9 Q520.3,158.8 523.0,160.9 Z" fill="#0c0b0b" opacity="0.68"/>
<path d="M523.0,160.9 Q524.8,160.0 526.6,160.9 Z" fill="#0c0b0b" opacity="0.66"/>
<path d="M526.6,160.9 Q528.7,158.6 530.8,160.9 Z" fill="#0c0b0b" opacity="0.70"/>
<path d="M530.8,160.9 Q532.1,159.7 533.3,160.9 Z" fill="#0c0b0b" opacity="0.38"/>
<path d="M533.3,160.9 Q535.9,159.9 538.6,160.9 Z" fill="#0c0b0b" opacity="0.39"/>
<path d="M538.6,160.9 Q541.1,159.0 543.6,160.9 Z" fill="#0c0b0b" opacity="0.37"/>
<path d="M543.6,160.9 Q544.6,158.7 545.6,160.9 Z" fill="#0c0b0b" opacity="0.57"/>
<ellipse cx="421.9" cy="159.9" rx="2.1" ry="1.6" fill="#b4b0ac" fill-opacity="0.35" stroke="#2e2a28" stroke-width="0.4" stroke-opacity="0.75"/>
<ellipse cx="490.0" cy="159.5" rx="2.6" ry="2.4" fill="#b4b0ac" fill-opacity="0.35" stroke="#2e2a28" stroke-width="0.4" stroke-opacity="0.75"/>
<ellipse cx="527.1" cy="160.4" rx="1.2" ry="0.9" fill="#b4b0ac" fill-opacity="0.35" stroke="#2e2a28" stroke-width="0.4" stroke-opacity="0.75"/>
<ellipse cx="481.5" cy="160.3" rx="1.0" ry="1.0" fill="#b4b0ac" fill-opacity="0.35" stroke="#2e2a28" stroke-width="0.4" stroke-opacity="0.75"/>
<ellipse cx="450.2" cy="160.3" rx="1.4" ry="1.0" fill="#b4b0ac" fill-opacity="0.35" stroke="#2e2a28" stroke-width="0.4" stroke-opacity="0.75"/>
<ellipse cx="447.6" cy="159.7" rx="2.4" ry="2.0" fill="#b4b0ac" fill-opacity="0.35" stroke="#2e2a28" stroke-width="0.4" stroke-opacity="0.75"/>
<ellipse cx="480.6" cy="160.3" rx="1.7" ry="1.0" fill="#b4b0ac" fill-opacity="0.35" stroke="#2e2a28" stroke-width="0.4" stroke-opacity="0.75"/>
<ellipse cx="454.0" cy="159.6" rx="2.4" ry="2.2" fill="#b4b0ac" fill-opacity="0.35" stroke="#2e2a28" stroke-width="0.4" stroke-opacity="0.75"/>
<ellipse cx="525.1" cy="160.3" rx="1.4" ry="1.0" fill="#b4b0ac" fill-opacity="0.35" stroke="#2e2a28" stroke-width="0.4" stroke-opacity="0.75"/>
<ellipse cx="421.5" cy="160.1" rx="1.9" ry="1.4" fill="#b4b0ac" fill-opacity="0.35" stroke="#2e2a28" stroke-width="0.4" stroke-opacity="0.75"/>
<ellipse cx="474.6" cy="160.0" rx="1.8" ry="1.5" fill="#b4b0ac" fill-opacity="0.35" stroke="#2e2a28" stroke-width="0.4" stroke-opacity="0.75"/>
<path d="M412.8,189.4 Q414.5,191.8 416.3,189.4 Z" fill="#0c0b0b" opacity="0.44"/>
<path d="M416.3,189.4 Q419.1,191.3 421.9,189.4 Z" fill="#0c0b0b" opacity="0.37"/>
<path d="M421.9,189.4 Q423.6,191.3 425.2,189.4 Z" fill="#0c0b0b" opacity="0.53"/>
<path d="M425.2,189.4 Q427.3,190.8 429.5,189.4 Z" fill="#0c0b0b" opacity="0.47"/>
<path d="M429.5,189.4 Q432.0,190.8 434.6,189.4 Z" fill="#0c0b0b" opacity="0.67"/>
<path d="M434.6,189.4 Q437.2,191.4 439.9,189.4 Z" fill="#0c0b0b" opacity="0.55"/>
<path d="M439.9,189.4 Q442.7,191.1 445.6,189.4 Z" fill="#0c0b0b" opacity="0.75"/>
<path d="M445.6,189.4 Q446.7,191.1 447.8,189.4 Z" fill="#0c0b0b" opacity="0.64"/>
<path d="M447.8,189.4 Q448.9,191.9 450.0,189.4 Z" fill="#0c0b0b" opacity="0.38"/>
<path d="M450.0,189.4 Q452.2,190.6 454.4,189.4 Z" fill="#0c0b0b" opacity="0.77"/>
<path d="M454.4,189.4 Q456.5,191.8 458.6,189.4 Z" fill="#0c0b0b" opacity="0.57"/>
<path d="M458.6,189.4 Q461.0,191.5 463.3,189.4 Z" fill="#0c0b0b" opacity="0.48"/>
<path d="M463.3,189.4 Q464.8,191.9 466.2,189.4 Z" fill="#0c0b0b" opacity="0.42"/>
<path d="M466.2,189.4 Q469.0,190.6 471.9,189.4 Z" fill="#0c0b0b" opacity="0.40"/>
<path d="M471.9,189.4 Q473.0,191.8 474.2,189.4 Z" fill="#0c0b0b" opacity="0.78"/>
<path d="M474.2,189.4 Q476.1,191.5 477.9,189.4 Z" fill="#0c0b0b" opacity="0.47"/>
<path d="M477.9,189.4 Q480.7,191.6 483.5,189.4 Z" fill="#0c0b0b" opacity="0.42"/>
<path d="M483.5,189.4 Q484.6,191.6 485.7,189.4 Z" fill="#0c0b0b" opacity="0.37"/>
<path d="M485.7,189.4 Q488.4,190.8 491.1,189.4 Z" fill="#0c0b0b" opacity="0.45"/>
<path d="M491.1,189.4 Q493.3,190.8 495.4,189.4 Z" fill="#0c0b0b" opacity="0.60"/>
<path d="M495.4,189.4 Q496.7,192.0 498.0,189.4 Z" fill="#0c0b0b" opacity="0.50"/>
<path d="M498.0,189.4 Q500.7,190.5 503.4,189.4 Z" fill="#0c0b0b" opacity="0.71"/>
<path d="M503.4,189.4 Q506.4,191.0 509.3,189.4 Z" fill="#0c0b0b" opacity="0.36"/>
<path d="M509.3,189.4 Q511.1,191.5 512.8,189.4 Z" fill="#0c0b0b" opacity="0.45"/>
<path d="M512.8,189.4 Q514.9,190.4 517.0,189.4 Z" fill="#0c0b0b" opacity="0.56"/>
<path d="M517.0,189.4 Q519.5,191.1 521.9,189.4 Z" fill="#0c0b0b" opacity="0.66"/>
<path d="M521.9,189.4 Q523.2,191.9 524.4,189.4 Z" fill="#0c0b0b" opacity="0.40"/>
<path d="M524.4,189.4 Q527.2,192.2 530.1,189.4 Z" fill="#0c0b0b" opacity="0.77"/>
<path d="M530.1,189.4 Q532.1,190.8 534.2,189.4 Z" fill="#0c0b0b" opacity="0.51"/>
<path d="M534.2,189.4 Q536.7,191.2 539.2,189.4 Z" fill="#0c0b0b" opacity="0.77"/>
<path d="M539.2,189.4 Q540.4,191.2 541.6,189.4 Z" fill="#0c0b0b" opacity="0.74"/>
<path d="M541.6,189.4 Q543.6,191.3 545.6,189.4 Z" fill="#0c0b0b" opacity="0.39"/>
<ellipse cx="432.8" cy="190.2" rx="1.4" ry="1.4" fill="#b4b0ac" fill-opacity="0.35" stroke="#2e2a28" stroke-width="0.4" stroke-opacity="0.75"/>
<ellipse cx="523.7" cy="190.2" rx="1.4" ry="1.3" fill="#b4b0ac" fill-opacity="0.35" stroke="#2e2a28" stroke-width="0.4" stroke-opacity="0.75"/>
<ellipse cx="419.0" cy="190.6" rx="2.0" ry="1.9" fill="#b4b0ac" fill-opacity="0.35" stroke="#2e2a28" stroke-width="0.4" stroke-opacity="0.75"/>
<ellipse cx="459.1" cy="190.7" rx="2.5" ry="2.2" fill="#b4b0ac" fill-opacity="0.35" stroke="#2e2a28" stroke-width="0.4" stroke-opacity="0.75"/>
<ellipse cx="421.2" cy="190.1" rx="1.5" ry="1.2" fill="#b4b0ac" fill-opacity="0.35" stroke="#2e2a28" stroke-width="0.4" stroke-opacity="0.75"/>
<ellipse cx="446.7" cy="190.3" rx="2.2" ry="1.5" fill="#b4b0ac" fill-opacity="0.35" stroke="#2e2a28" stroke-width="0.4" stroke-opacity="0.75"/>
<ellipse cx="516.3" cy="190.0" rx="1.5" ry="0.9" fill="#b4b0ac" fill-opacity="0.35" stroke="#2e2a28" stroke-width="0.4" stroke-opacity="0.75"/>
<ellipse cx="486.8" cy="190.0" rx="1.2" ry="0.9" fill="#b4b0ac" fill-opacity="0.35" stroke="#2e2a28" stroke-width="0.4" stroke-opacity="0.75"/>
<ellipse cx="516.3" cy="190.3" rx="2.0" ry="1.5" fill="#b4b0ac" fill-opacity="0.35" stroke="#2e2a28" stroke-width="0.4" stroke-opacity="0.75"/>
<ellipse cx="419.1" cy="190.1" rx="1.8" ry="1.2" fill="#b4b0ac" fill-opacity="0.35" stroke="#2e2a28" stroke-width="0.4" stroke-opacity="0.75"/>
<ellipse cx="498.1" cy="190.0" rx="1.2" ry="1.0" fill="#b4b0ac" fill-opacity="0.35" stroke="#2e2a28" stroke-width="0.4" stroke-opacity="0.75"/>
<path d="M412.8,160.8 L414.3,160.8 L415.8,161.1 L417.3,160.6 L418.8,160.6 L420.3,161.3 L421.8,160.7 L423.3,161.2 L424.8,161.3 L426.3,160.9 L427.8,160.5 L429.3,160.5 L430.8,161.3 L432.3,160.5 L433.8,160.9 L435.3,160.9 L436.8,160.5 L438.3,160.9 L439.8,160.6 L441.3,160.9 L442.8,160.9 L444.3,160.8 L445.8,160.6 L447.3,160.8 L448.8,160.6 L450.3,160.5 L451.8,160.6 L453.3,161.3 L454.8,160.9 L456.3,161.3 L457.8,160.4 L459.3,161.3 L460.8,160.9 L462.3,161.2 L463.8,161.0 L465.3,161.1 L466.8,160.6 L468.3,161.2 L469.8,160.6 L471.3,160.7 L472.8,160.4 L474.3,160.8 L475.8,160.9 L477.3,160.7 L478.8,161.3 L480.3,160.5 L481.8,161.0 L483.3,160.6 L484.8,161.0 L486.3,161.2 L487.8,161.1 L489.3,160.5 L490.8,160.6 L492.3,161.0 L493.8,161.4 L495.3,160.4 L496.8,161.0 L498.3,161.1 L499.8,161.2 L501.3,160.7 L502.8,161.2 L504.3,160.9 L505.8,161.3 L507.3,160.4 L508.8,161.3 L510.3,160.8 L511.8,160.8 L513.3,160.5 L514.8,160.6 L516.3,161.1 L517.8,161.1 L519.3,160.6 L520.8,160.7 L522.3,160.5 L523.8,160.6 L525.3,160.6 L526.8,160.7 L528.3,161.4 L529.8,161.4 L531.3,161.2 L532.8,160.9 L534.3,160.9 L535.8,161.2 L537.3,161.3 L538.8,161.2 L540.3,161.0 L541.8,160.6 L543.3,161.0 L544.8,161.2 L545.6,161.2 L545.6,189.1 L544.8,189.7 L543.3,189.1 L541.8,189.9 L540.3,189.4 L538.8,189.9 L537.3,189.4 L535.8,189.3 L534.3,189.8 L532.8,189.5 L531.3,189.8 L529.8,189.1 L528.3,189.3 L526.8,189.9 L525.3,189.2 L523.8,189.1 L522.3,189.7 L520.8,188.9 L519.3,189.6 L517.8,189.0 L516.3,189.7 L514.8,189.6 L513.3,189.3 L511.8,189.6 L510.3,189.2 L508.8,189.0 L507.3,189.2 L505.8,189.5 L504.3,189.7 L502.8,189.3 L501.3,189.1 L499.8,189.2 L498.3,189.4 L496.8,189.5 L495.3,189.3 L493.8,189.7 L492.3,189.0 L490.8,188.9 L489.3,189.4 L487.8,188.9 L486.3,189.7 L484.8,189.7 L483.3,189.5 L481.8,189.2 L480.3,189.7 L478.8,189.6 L477.3,189.0 L475.8,189.3 L474.3,189.7 L472.8,189.8 L471.3,189.6 L469.8,189.7 L468.3,189.7 L466.8,189.3 L465.3,189.6 L463.8,189.6 L462.3,189.8 L460.8,189.4 L459.3,189.1 L457.8,189.4 L456.3,189.1 L454.8,189.1 L453.3,189.7 L451.8,189.2 L450.3,189.7 L448.8,189.9 L447.3,189.0 L445.8,189.8 L444.3,189.4 L442.8,189.9 L441.3,189.2 L439.8,189.8 L438.3,189.7 L436.8,189.7 L435.3,189.3 L433.8,189.5 L432.3,189.7 L430.8,189.7 L429.3,189.6 L427.8,189.8 L426.3,189.8 L424.8,189.7 L423.3,189.0 L421.8,189.6 L420.3,189.6 L418.8,189.9 L417.3,189.1 L415.8,189.2 L414.3,189.6 L412.8,189.0 Z" fill="#0c0b0b"/>
<text x="430.7" y="137.8" font-family="'Liberation Serif','Times New Roman',serif" class="y" font-weight="bold" font-size="7.9" fill="#e6e41e" style="stroke:none" textLength="25.4" lengthAdjust="spacingAndGlyphs">0.35mm</text>
<rect x="513.5" y="208.0" width="31.5" height="17.1" fill="#fdfdfc"/>
<rect x="518.2" y="210.9" width="22.3" height="1.8" fill="#050505"/>
<text x="520.2" y="221.4" font-family="'Liberation Serif','Times New Roman',serif" font-size="8" fill="#1a1a1a" textLength="17.5" lengthAdjust="spacingAndGlyphs">50μm</text>
<circle cx="159.2" cy="19.2" r="1" fill="#3c3836" opacity="0.85"/>
<circle cx="469.5" cy="23.6" r="0.6" fill="#3c3836" opacity="0.8"/>
<path d="M527.6,191.5 L529.2,199" stroke="#3a3532" stroke-width="0.9" opacity="0.8"/>
<path d="M469.3,203 L469.9,207.2" stroke="#3a3532" stroke-width="0.6" opacity="0.7"/>
<path d="M454.5,191.6 L456,193.5" stroke="#3a3532" stroke-width="0.5" opacity="0.6"/>
<path d="M386.5,41.5 q1.5,-2.5 2.5,0" fill="none" stroke="#3a3532" stroke-width="0.4" opacity="0.7"/>
<text x="7.6" y="8.7" font-family="'Liberation Serif','Times New Roman',serif" font-size="10.1" fill="#1a1a1a" style="stroke-width:0.38px" xml:space="preserve">(a) Rolling-slitting  blade</text>
<text x="8.7" y="121.7" font-family="'Liberation Serif','Times New Roman',serif" font-size="10.4" fill="#1a1a1a" style="stroke-width:0.38px">(b) Cold pressing blade</text>
<linearGradient id="gc" x1="0" y1="0" x2="0" y2="1"><stop offset="0" stop-color="#a2e7fa"/><stop offset="0.78" stop-color="#ffffff"/></linearGradient>
<rect x="37.3" y="252.2" width="135.9" height="109.2" fill="url(#gc)"/>
<line x1="47.8" y1="361.4" x2="47.8" y2="358.9" stroke="#333" stroke-width="0.7"/>
<text x="47.8" y="369.8" text-anchor="middle" font-family="'Liberation Serif','Times New Roman',serif" font-size="7.4" fill="#1a1a1a">0.1</text>
<line x1="89.6" y1="361.4" x2="89.6" y2="358.9" stroke="#333" stroke-width="0.7"/>
<text x="89.6" y="369.8" text-anchor="middle" font-family="'Liberation Serif','Times New Roman',serif" font-size="7.4" fill="#1a1a1a">0.2</text>
<line x1="131.4" y1="361.4" x2="131.4" y2="358.9" stroke="#333" stroke-width="0.7"/>
<text x="131.4" y="369.8" text-anchor="middle" font-family="'Liberation Serif','Times New Roman',serif" font-size="7.4" fill="#1a1a1a">0.3</text>
<line x1="173.2" y1="361.4" x2="173.2" y2="358.9" stroke="#333" stroke-width="0.7"/>
<text x="173.2" y="369.8" text-anchor="middle" font-family="'Liberation Serif','Times New Roman',serif" font-size="7.4" fill="#1a1a1a">0.4</text>
<line x1="68.7" y1="361.4" x2="68.7" y2="359.9" stroke="#333" stroke-width="0.6"/>
<line x1="110.5" y1="361.4" x2="110.5" y2="359.9" stroke="#333" stroke-width="0.6"/>
<line x1="152.3" y1="361.4" x2="152.3" y2="359.9" stroke="#333" stroke-width="0.6"/>
<line x1="37.3" y1="361.4" x2="39.8" y2="361.4" stroke="#333" stroke-width="0.7"/>
<text x="35.3" y="363.5" text-anchor="end" font-family="'Liberation Serif','Times New Roman',serif" font-size="7.4" fill="#1a1a1a">0.95</text>
<line x1="37.3" y1="339.6" x2="39.8" y2="339.6" stroke="#333" stroke-width="0.7"/>
<text x="35.3" y="341.7" text-anchor="end" font-family="'Liberation Serif','Times New Roman',serif" font-size="7.4" fill="#1a1a1a">1.00</text>
<line x1="37.3" y1="317.7" x2="39.8" y2="317.7" stroke="#333" stroke-width="0.7"/>
<text x="35.3" y="319.8" text-anchor="end" font-family="'Liberation Serif','Times New Roman',serif" font-size="7.4" fill="#1a1a1a">1.05</text>
<line x1="37.3" y1="295.9" x2="39.8" y2="295.9" stroke="#333" stroke-width="0.7"/>
<text x="35.3" y="298.0" text-anchor="end" font-family="'Liberation Serif','Times New Roman',serif" font-size="7.4" fill="#1a1a1a">1.10</text>
<line x1="37.3" y1="274.0" x2="39.8" y2="274.0" stroke="#333" stroke-width="0.7"/>
<text x="35.3" y="276.1" text-anchor="end" font-family="'Liberation Serif','Times New Roman',serif" font-size="7.4" fill="#1a1a1a">1.15</text>
<line x1="37.3" y1="252.2" x2="39.8" y2="252.2" stroke="#333" stroke-width="0.7"/>
<text x="35.3" y="254.3" text-anchor="end" font-family="'Liberation Serif','Times New Roman',serif" font-size="7.4" fill="#1a1a1a">1.20</text>
<line x1="37.3" y1="350.5" x2="38.8" y2="350.5" stroke="#333" stroke-width="0.6"/>
<line x1="37.3" y1="328.6" x2="38.8" y2="328.6" stroke="#333" stroke-width="0.6"/>
<line x1="37.3" y1="306.8" x2="38.8" y2="306.8" stroke="#333" stroke-width="0.6"/>
<line x1="37.3" y1="285.0" x2="38.8" y2="285.0" stroke="#333" stroke-width="0.6"/>
<line x1="37.3" y1="263.1" x2="38.8" y2="263.1" stroke="#333" stroke-width="0.6"/>
<rect x="37.3" y="252.2" width="135.9" height="109.2" fill="none" stroke="#3a3a3a" stroke-width="0.9"/>
<polyline points="47.8,348.3 89.6,317.7 131.4,291.5 152.3,265.3" fill="none" stroke="#333" stroke-width="0.8"/>
<rect x="46.3" y="346.8" width="3" height="3" fill="#333"/>
<rect x="88.1" y="316.2" width="3" height="3" fill="#333"/>
<rect x="129.9" y="290.0" width="3" height="3" fill="#333"/>
<rect x="150.8" y="263.8" width="3" height="3" fill="#333"/>
<polyline points="47.8,330.8 89.6,309.0 131.4,282.8 152.3,265.3" fill="none" stroke="#f33" stroke-width="0.8"/>
<circle cx="47.8" cy="330.8" r="1.6" fill="#f33"/>
<circle cx="89.6" cy="309.0" r="1.6" fill="#f33"/>
<circle cx="131.4" cy="282.8" r="1.6" fill="#f33"/>
<circle cx="152.3" cy="265.3" r="1.6" fill="#f33"/>
<rect x="70.3" y="260.1" width="60.2" height="17.2" fill="#fff" stroke="#999" stroke-width="0.5"/>
<line x1="71.3" y1="264.5" x2="86.6" y2="264.5" stroke="#333" stroke-width="0.8"/>
<rect x="77.9" y="263.1" width="2.8" height="2.8" fill="#333"/>
<text x="88.5" y="266.9" font-family="'Liberation Serif','Times New Roman',serif" font-size="6.68" fill="#1a1a1a">Rolling-slitting</text>
<line x1="71.3" y1="272.8" x2="86.6" y2="272.8" stroke="#f33" stroke-width="0.8"/>
<circle cx="79.3" cy="272.8" r="1.5" fill="#f33"/>
<text x="88.5" y="275.2" font-family="'Liberation Serif','Times New Roman',serif" font-size="6.68" fill="#1a1a1a">Cold pressing</text>
<text x="105.2" y="381.6" text-anchor="middle" font-family="'Liberation Serif','Times New Roman',serif" font-size="8.3" fill="#1a1a1a">Dicing depth (mm)</text>
<text transform="translate(16.3,306.8) rotate(-90)" x="0" y="0" text-anchor="middle" font-family="'Liberation Serif','Times New Roman',serif" font-size="8.3" fill="#1a1a1a">Spindle current (A)</text>
<text x="8" y="240.9" font-family="'Liberation Serif','Times New Roman',serif" font-size="10.3" fill="#1a1a1a" style="stroke-width:0.42px">(c)</text>
<linearGradient id="gd" x1="0" y1="0" x2="0" y2="1"><stop offset="0" stop-color="#a2e7fa"/><stop offset="0.78" stop-color="#ffffff"/></linearGradient>
<rect x="205.9" y="251.6" width="138.6" height="111.7" fill="url(#gd)"/>
<line x1="216.6" y1="363.3" x2="216.6" y2="360.8" stroke="#333" stroke-width="0.7"/>
<text x="216.6" y="371.7" text-anchor="middle" font-family="'Liberation Serif','Times New Roman',serif" font-size="7.4" fill="#1a1a1a">0.1</text>
<line x1="259.2" y1="363.3" x2="259.2" y2="360.8" stroke="#333" stroke-width="0.7"/>
<text x="259.2" y="371.7" text-anchor="middle" font-family="'Liberation Serif','Times New Roman',serif" font-size="7.4" fill="#1a1a1a">0.2</text>
<line x1="301.9" y1="363.3" x2="301.9" y2="360.8" stroke="#333" stroke-width="0.7"/>
<text x="301.9" y="371.7" text-anchor="middle" font-family="'Liberation Serif','Times New Roman',serif" font-size="7.4" fill="#1a1a1a">0.3</text>
<line x1="344.5" y1="363.3" x2="344.5" y2="360.8" stroke="#333" stroke-width="0.7"/>
<text x="344.5" y="371.7" text-anchor="middle" font-family="'Liberation Serif','Times New Roman',serif" font-size="7.4" fill="#1a1a1a">0.4</text>
<line x1="237.9" y1="363.3" x2="237.9" y2="361.8" stroke="#333" stroke-width="0.6"/>
<line x1="280.5" y1="363.3" x2="280.5" y2="361.8" stroke="#333" stroke-width="0.6"/>
<line x1="323.2" y1="363.3" x2="323.2" y2="361.8" stroke="#333" stroke-width="0.6"/>
<line x1="205.9" y1="363.3" x2="208.4" y2="363.3" stroke="#333" stroke-width="0.7"/>
<text x="203.9" y="365.4" text-anchor="end" font-family="'Liberation Serif','Times New Roman',serif" font-size="7.4" fill="#1a1a1a">4</text>
<line x1="205.9" y1="346.1" x2="208.4" y2="346.1" stroke="#333" stroke-width="0.7"/>
<text x="203.9" y="348.2" text-anchor="end" font-family="'Liberation Serif','Times New Roman',serif" font-size="7.4" fill="#1a1a1a">5</text>
<line x1="205.9" y1="328.9" x2="208.4" y2="328.9" stroke="#333" stroke-width="0.7"/>
<text x="203.9" y="331.0" text-anchor="end" font-family="'Liberation Serif','Times New Roman',serif" font-size="7.4" fill="#1a1a1a">6</text>
<line x1="205.9" y1="311.7" x2="208.4" y2="311.7" stroke="#333" stroke-width="0.7"/>
<text x="203.9" y="313.8" text-anchor="end" font-family="'Liberation Serif','Times New Roman',serif" font-size="7.4" fill="#1a1a1a">7</text>
<line x1="205.9" y1="294.6" x2="208.4" y2="294.6" stroke="#333" stroke-width="0.7"/>
<text x="203.9" y="296.7" text-anchor="end" font-family="'Liberation Serif','Times New Roman',serif" font-size="7.4" fill="#1a1a1a">8</text>
<line x1="205.9" y1="277.4" x2="208.4" y2="277.4" stroke="#333" stroke-width="0.7"/>
<text x="203.9" y="279.5" text-anchor="end" font-family="'Liberation Serif','Times New Roman',serif" font-size="7.4" fill="#1a1a1a">9</text>
<line x1="205.9" y1="260.2" x2="208.4" y2="260.2" stroke="#333" stroke-width="0.7"/>
<text x="203.9" y="262.3" text-anchor="end" font-family="'Liberation Serif','Times New Roman',serif" font-size="7.4" fill="#1a1a1a">10</text>
<line x1="205.9" y1="354.7" x2="207.4" y2="354.7" stroke="#333" stroke-width="0.6"/>
<line x1="205.9" y1="337.5" x2="207.4" y2="337.5" stroke="#333" stroke-width="0.6"/>
<line x1="205.9" y1="320.3" x2="207.4" y2="320.3" stroke="#333" stroke-width="0.6"/>
<line x1="205.9" y1="303.2" x2="207.4" y2="303.2" stroke="#333" stroke-width="0.6"/>
<line x1="205.9" y1="286.0" x2="207.4" y2="286.0" stroke="#333" stroke-width="0.6"/>
<line x1="205.9" y1="268.8" x2="207.4" y2="268.8" stroke="#333" stroke-width="0.6"/>
<rect x="205.9" y="251.6" width="138.6" height="111.7" fill="none" stroke="#3a3a3a" stroke-width="0.9"/>
<polyline points="216.6,347.8 259.2,303.2 301.9,283.4 323.2,273.9" fill="none" stroke="#333" stroke-width="0.8"/>
<rect x="215.1" y="346.3" width="3" height="3" fill="#333"/>
<rect x="257.7" y="301.7" width="3" height="3" fill="#333"/>
<rect x="300.4" y="281.9" width="3" height="3" fill="#333"/>
<rect x="321.7" y="272.4" width="3" height="3" fill="#333"/>
<polyline points="216.6,310.9 259.2,287.7 301.9,264.5 323.2,257.6" fill="none" stroke="#f33" stroke-width="0.8"/>
<circle cx="216.6" cy="310.9" r="1.6" fill="#f33"/>
<circle cx="259.2" cy="287.7" r="1.6" fill="#f33"/>
<circle cx="301.9" cy="264.5" r="1.6" fill="#f33"/>
<circle cx="323.2" cy="257.6" r="1.6" fill="#f33"/>
<rect x="221.8" y="254.7" width="60.2" height="16.8" fill="#fff" stroke="#999" stroke-width="0.5"/>
<line x1="222.8" y1="259.1" x2="238.10000000000002" y2="259.1" stroke="#333" stroke-width="0.8"/>
<rect x="229.4" y="257.7" width="2.8" height="2.8" fill="#333"/>
<text x="240.0" y="261.5" font-family="'Liberation Serif','Times New Roman',serif" font-size="6.9" fill="#1a1a1a">Rolling-slitting</text>
<line x1="222.8" y1="267.4" x2="238.10000000000002" y2="267.4" stroke="#f33" stroke-width="0.8"/>
<circle cx="230.8" cy="267.4" r="1.5" fill="#f33"/>
<text x="240.0" y="269.8" font-family="'Liberation Serif','Times New Roman',serif" font-size="6.9" fill="#1a1a1a">Cold pressing</text>
<text x="274.8" y="382.9" text-anchor="middle" font-family="'Liberation Serif','Times New Roman',serif" font-size="8.45" fill="#1a1a1a">Dicing depth (mm)</text>
<text transform="translate(191,305.7) rotate(-90)" x="0" y="0" text-anchor="middle" font-family="'Liberation Serif','Times New Roman',serif" font-size="8.5" fill="#1a1a1a">Chipping size (μm)</text>
<text x="185.7" y="240.9" font-family="'Liberation Serif','Times New Roman',serif" font-size="10.3" fill="#1a1a1a" style="stroke-width:0.42px">(d)</text>
<rect x="383.2" y="251.2" width="139.4" height="112.9" fill="#fff"/>
<rect x="386.4" y="320.1" width="14.1" height="44.0" fill="#dcfcc8" stroke="#555" stroke-width="0.5"/>
<rect x="400.5" y="300.5" width="14.1" height="63.6" fill="#9ce5fb" stroke="#555" stroke-width="0.5"/>
<line x1="393.4" y1="318.6" x2="393.4" y2="321.6" stroke="#555" stroke-width="0.5"/>
<line x1="391.9" y1="318.6" x2="394.9" y2="318.6" stroke="#555" stroke-width="0.5"/>
<line x1="391.9" y1="321.6" x2="394.9" y2="321.6" stroke="#555" stroke-width="0.5"/>
<line x1="407.6" y1="296.0" x2="407.6" y2="305.0" stroke="#555" stroke-width="0.5"/>
<line x1="406.1" y1="296.0" x2="409.1" y2="296.0" stroke="#555" stroke-width="0.5"/>
<line x1="406.1" y1="305.0" x2="409.1" y2="305.0" stroke="#555" stroke-width="0.5"/>
<text x="400.5" y="372.4" text-anchor="middle" font-family="'Liberation Serif','Times New Roman',serif" font-size="7.4" fill="#1a1a1a">0.1</text>
<rect x="421.5" y="317.4" width="14.1" height="46.7" fill="#dcfcc8" stroke="#555" stroke-width="0.5"/>
<rect x="435.6" y="278.3" width="14.1" height="85.8" fill="#9ce5fb" stroke="#555" stroke-width="0.5"/>
<line x1="428.6" y1="311.0" x2="428.6" y2="323.8" stroke="#555" stroke-width="0.5"/>
<line x1="427.1" y1="311.0" x2="430.1" y2="311.0" stroke="#555" stroke-width="0.5"/>
<line x1="427.1" y1="323.8" x2="430.1" y2="323.8" stroke="#555" stroke-width="0.5"/>
<line x1="442.7" y1="274.5" x2="442.7" y2="282.1" stroke="#555" stroke-width="0.5"/>
<line x1="441.2" y1="274.5" x2="444.2" y2="274.5" stroke="#555" stroke-width="0.5"/>
<line x1="441.2" y1="282.1" x2="444.2" y2="282.1" stroke="#555" stroke-width="0.5"/>
<text x="435.6" y="372.4" text-anchor="middle" font-family="'Liberation Serif','Times New Roman',serif" font-size="7.4" fill="#1a1a1a">0.2</text>
<rect x="456.4" y="290.3" width="14.1" height="73.8" fill="#dcfcc8" stroke="#555" stroke-width="0.5"/>
<rect x="470.5" y="294.5" width="14.1" height="69.6" fill="#9ce5fb" stroke="#555" stroke-width="0.5"/>
<line x1="463.4" y1="289.2" x2="463.4" y2="291.5" stroke="#555" stroke-width="0.5"/>
<line x1="461.9" y1="289.2" x2="464.9" y2="289.2" stroke="#555" stroke-width="0.5"/>
<line x1="461.9" y1="291.5" x2="464.9" y2="291.5" stroke="#555" stroke-width="0.5"/>
<line x1="477.6" y1="287.0" x2="477.6" y2="302.0" stroke="#555" stroke-width="0.5"/>
<line x1="476.1" y1="287.0" x2="479.1" y2="287.0" stroke="#555" stroke-width="0.5"/>
<line x1="476.1" y1="302.0" x2="479.1" y2="302.0" stroke="#555" stroke-width="0.5"/>
<text x="470.5" y="372.4" text-anchor="middle" font-family="'Liberation Serif','Times New Roman',serif" font-size="7.4" fill="#1a1a1a">0.3</text>
<rect x="491.3" y="293.7" width="14.1" height="70.4" fill="#dcfcc8" stroke="#555" stroke-width="0.5"/>
<rect x="505.4" y="275.7" width="14.1" height="88.4" fill="#9ce5fb" stroke="#555" stroke-width="0.5"/>
<line x1="498.3" y1="288.5" x2="498.3" y2="299.0" stroke="#555" stroke-width="0.5"/>
<line x1="496.8" y1="288.5" x2="499.8" y2="288.5" stroke="#555" stroke-width="0.5"/>
<line x1="496.8" y1="299.0" x2="499.8" y2="299.0" stroke="#555" stroke-width="0.5"/>
<line x1="512.4" y1="270.4" x2="512.4" y2="280.9" stroke="#555" stroke-width="0.5"/>
<line x1="510.9" y1="270.4" x2="513.9" y2="270.4" stroke="#555" stroke-width="0.5"/>
<line x1="510.9" y1="280.9" x2="513.9" y2="280.9" stroke="#555" stroke-width="0.5"/>
<text x="505.4" y="372.4" text-anchor="middle" font-family="'Liberation Serif','Times New Roman',serif" font-size="7.4" fill="#1a1a1a">0.35</text>
<line x1="383.2" y1="329.7" x2="522.6" y2="329.7" stroke="#f49cf4" stroke-width="0.85" stroke-dasharray="1.3,1.2"/>
<line x1="383.2" y1="364.1" x2="385.7" y2="364.1" stroke="#333" stroke-width="0.7"/>
<text x="381.2" y="366.2" text-anchor="end" font-family="'Liberation Serif','Times New Roman',serif" font-size="7.4" fill="#1a1a1a">40</text>
<line x1="383.2" y1="326.5" x2="385.7" y2="326.5" stroke="#333" stroke-width="0.7"/>
<text x="381.2" y="328.6" text-anchor="end" font-family="'Liberation Serif','Times New Roman',serif" font-size="7.4" fill="#1a1a1a">50</text>
<line x1="383.2" y1="288.8" x2="385.7" y2="288.8" stroke="#333" stroke-width="0.7"/>
<text x="381.2" y="290.9" text-anchor="end" font-family="'Liberation Serif','Times New Roman',serif" font-size="7.4" fill="#1a1a1a">60</text>
<line x1="383.2" y1="251.2" x2="385.7" y2="251.2" stroke="#333" stroke-width="0.7"/>
<text x="381.2" y="253.3" text-anchor="end" font-family="'Liberation Serif','Times New Roman',serif" font-size="7.4" fill="#1a1a1a">70</text>
<line x1="383.2" y1="345.3" x2="384.7" y2="345.3" stroke="#333" stroke-width="0.6"/>
<line x1="383.2" y1="307.6" x2="384.7" y2="307.6" stroke="#333" stroke-width="0.6"/>
<line x1="383.2" y1="270.0" x2="384.7" y2="270.0" stroke="#333" stroke-width="0.6"/>
<line x1="418" y1="364.1" x2="418" y2="362.6" stroke="#333" stroke-width="0.7"/>
<line x1="453" y1="364.1" x2="453" y2="362.6" stroke="#333" stroke-width="0.7"/>
<line x1="488" y1="364.1" x2="488" y2="362.6" stroke="#333" stroke-width="0.7"/>
<rect x="383.2" y="251.2" width="139.4" height="112.9" fill="none" stroke="#3a3a3a" stroke-width="0.9"/>
<rect x="446.5" y="253.9" width="61.5" height="17.6" fill="#fff" stroke="#bbb" stroke-width="0.5"/>
<rect x="447.8" y="255.6" width="13.7" height="6" fill="#dcfcc8" stroke="#777" stroke-width="0.4"/>
<rect x="447.8" y="263.6" width="13.7" height="6" fill="#9ce5fb" stroke="#777" stroke-width="0.4"/>
<text x="465" y="261" font-family="'Liberation Serif','Times New Roman',serif" font-size="6.9" fill="#1a1a1a">Rolling-slitting</text>
<text x="465" y="269.2" font-family="'Liberation Serif','Times New Roman',serif" font-size="6.9" fill="#1a1a1a">Cold pressing</text>
<text x="452.9" y="383.6" text-anchor="middle" font-family="'Liberation Serif','Times New Roman',serif" font-size="8.4" fill="#1a1a1a">Dicing depth (mm)</text>
<text transform="translate(368.5,296.5) rotate(-90)" text-anchor="middle" font-family="'Liberation Serif','Times New Roman',serif" font-size="8" fill="#1a1a1a">Kerf width (μm)</text>
<text x="363.6" y="240.9" font-family="'Liberation Serif','Times New Roman',serif" font-size="10.3" fill="#1a1a1a" style="stroke-width:0.42px">(e)</text>
</svg>
</body></html>
